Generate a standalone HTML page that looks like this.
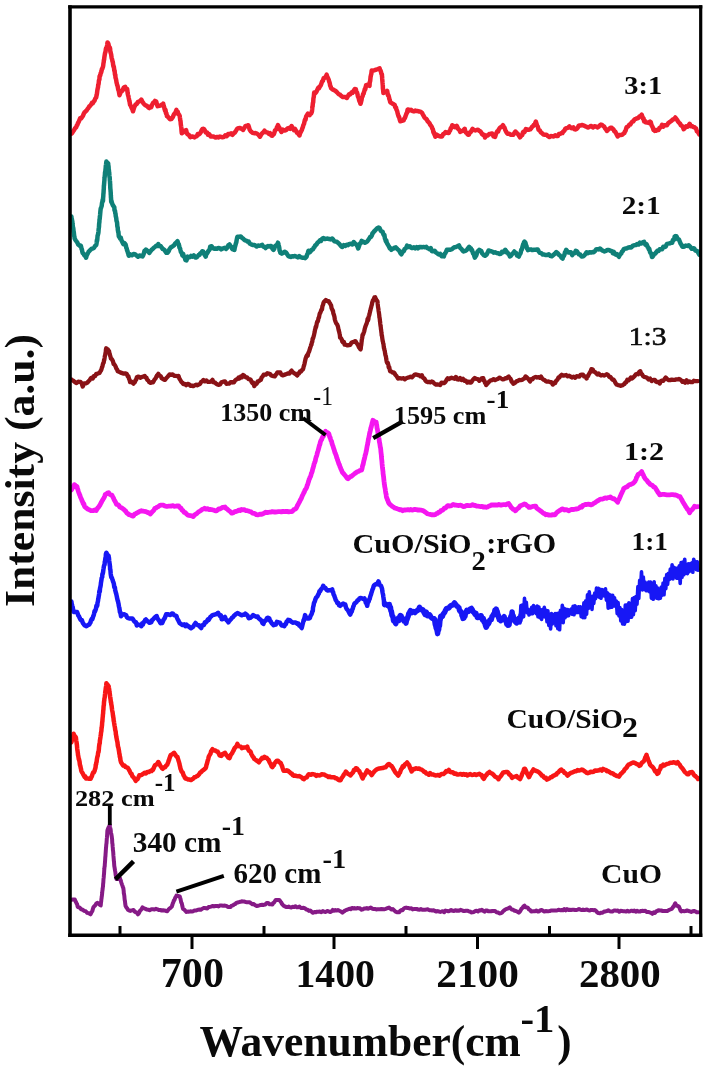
<!DOCTYPE html>
<html><head><meta charset="utf-8"><title>Raman spectra</title>
<style>html,body{margin:0;padding:0;background:#fff;overflow:hidden;}svg{display:block;}</style>
</head><body>
<svg width="709" height="1069" viewBox="0 0 709 1069" font-family="Liberation Serif, Times New Roman, serif">
<rect width="709" height="1069" fill="#fff"/>
<path d="M71.4 133.6L72.2 133.0L73.1 131.4L74.0 130.2L74.8 128.7L75.4 127.9L76.1 127.4L76.7 125.7L77.4 124.8L78.0 123.0L78.7 121.8L79.3 120.4L80.2 118.2L81.1 118.5L82.0 117.2L82.9 116.0L83.8 113.6L84.5 112.4L85.3 111.8L86.0 111.0L86.8 110.3L87.5 109.0L88.3 108.2L89.2 106.4L90.1 105.8L91.0 104.7L91.9 102.9L92.8 103.2L93.7 101.4L94.5 100.7L95.3 98.5L96.2 97.3L96.4 96.1L96.7 94.9L96.9 94.0L97.1 92.4L97.3 90.7L97.6 89.0L97.8 87.9L98.0 87.6L98.2 85.0L98.5 84.3L98.7 83.1L98.9 80.6L99.1 80.1L99.4 79.5L99.6 76.2L100.0 76.0L100.4 74.8L100.7 73.1L101.1 72.7L101.5 71.1L101.9 69.0L102.2 69.1L102.6 67.8L103.0 66.7L103.2 65.6L103.4 63.6L103.7 62.1L103.9 59.9L104.1 59.7L104.3 57.6L104.5 56.4L104.8 54.5L105.0 53.4L105.2 52.3L105.5 52.1L105.9 48.8L106.2 47.8L106.5 47.5L106.8 47.0L107.2 45.1L107.5 42.4L108.3 43.5L109.0 46.7L109.8 47.6L110.1 48.7L110.3 51.2L110.6 52.6L110.9 53.4L111.2 54.8L111.4 56.2L111.7 58.2L112.0 59.0L112.3 60.2L112.5 61.6L112.8 61.6L113.1 64.7L113.3 65.8L113.6 66.8L113.8 66.6L114.1 68.7L114.3 70.8L114.6 70.5L114.8 72.8L115.0 74.8L115.3 74.7L115.5 77.7L115.8 78.4L116.0 79.2L116.3 80.8L116.5 82.3L116.8 83.4L117.2 85.3L117.5 85.6L117.8 87.2L118.2 89.4L118.5 90.2L118.8 91.0L119.2 93.5L119.5 95.2L120.4 92.9L121.3 91.3L122.2 90.9L122.9 89.4L123.7 87.8L124.4 87.2L125.3 86.9L126.2 89.4L127.1 89.0L127.4 90.7L127.6 92.9L127.9 94.5L128.2 95.7L128.5 96.7L128.7 97.9L129.0 99.2L129.3 100.8L129.6 101.7L129.8 103.3L130.1 104.8L130.8 105.9L131.6 107.8L132.3 109.0L133.0 111.3L133.7 108.9L134.3 107.0L135.0 105.7L135.7 104.5L136.8 103.9L137.9 102.0L139.1 101.4L140.2 101.1L141.3 99.6L142.4 101.6L143.6 103.5L144.7 104.7L145.8 105.5L147.0 105.9L148.2 107.4L149.3 108.1L150.2 106.5L151.2 107.1L152.1 104.7L153.0 103.0L154.0 102.2L154.9 101.0L155.6 102.2L156.3 101.7L156.9 104.2L157.6 106.2L158.3 106.0L159.4 105.8L160.6 105.6L161.7 104.7L162.8 104.3L163.2 103.7L163.7 105.9L164.2 107.2L164.6 109.2L165.1 110.8L165.5 109.9L166.0 113.5L166.4 113.3L166.9 116.0L167.3 116.0L168.7 117.8L170.0 119.2L171.4 119.1L172.1 118.0L172.8 117.1L173.5 115.4L174.3 113.9L175.0 113.6L175.7 112.0L176.4 109.9L177.1 112.9L177.7 111.7L178.4 114.1L179.0 114.5L179.7 115.9L179.9 117.6L180.1 118.7L180.2 120.3L180.4 120.4L180.6 121.8L180.8 124.5L180.9 124.9L181.1 126.3L181.3 127.4L181.5 130.4L181.6 131.5L181.8 133.3L182.0 133.2L182.8 132.7L183.7 130.9L184.6 130.9L185.4 130.3L186.1 130.1L186.8 133.0L187.4 134.0L188.1 134.6L188.8 134.9L190.2 137.2L191.6 136.6L193.0 136.6L194.4 137.4L195.5 136.6L196.7 136.4L197.8 134.0L198.9 134.5L199.8 133.6L200.7 132.4L201.6 130.3L202.5 128.9L203.4 128.8L204.2 129.4L204.9 130.5L205.7 132.5L206.5 132.6L207.2 132.5L208.0 134.8L209.3 134.3L210.7 136.4L212.0 136.5L213.4 136.4L214.7 137.2L216.0 137.5L217.3 136.9L218.6 137.5L219.9 136.5L221.2 137.0L222.5 137.2L223.8 137.1L225.2 135.4L226.7 136.1L228.1 134.1L229.5 134.3L231.0 133.4L232.5 134.8L234.0 133.1L234.8 132.7L235.5 131.5L236.2 130.4L237.0 129.0L237.8 128.4L238.5 128.2L240.0 127.9L241.6 128.9L243.1 129.9L244.2 128.1L245.3 126.3L246.5 125.6L247.6 125.4L248.3 125.2L249.0 127.2L249.6 129.5L250.3 130.7L251.0 131.6L252.5 132.8L254.0 133.2L255.5 133.1L257.0 133.6L258.5 134.9L260.0 136.7L261.1 134.6L262.2 133.3L263.4 132.3L264.5 130.7L266.0 132.3L267.5 132.4L269.0 134.0L270.1 133.2L271.3 135.5L272.4 135.7L273.1 133.8L273.8 134.3L274.4 132.5L275.1 130.2L275.8 129.9L276.4 129.2L276.9 127.3L277.4 126.7L278.0 125.2L278.7 126.6L279.4 127.7L280.0 129.7L280.7 130.6L281.4 131.9L282.9 129.6L284.5 130.6L286.0 130.1L287.4 128.6L288.8 127.9L290.2 128.8L291.6 126.0L292.7 128.2L293.9 130.2L295.0 129.0L296.1 130.8L297.0 132.7L297.8 132.6L298.6 134.2L299.5 135.5L300.1 133.1L300.6 132.3L301.2 131.2L301.8 130.2L302.3 128.4L302.9 127.0L303.3 125.2L303.7 124.4L304.0 123.9L304.4 122.1L304.8 120.3L305.2 119.1L305.5 119.9L305.9 117.7L306.3 116.2L308.0 113.6L309.7 115.0L310.4 113.8L311.2 113.4L311.9 111.6L312.1 110.0L312.2 109.0L312.4 106.3L312.6 106.7L312.7 105.0L312.9 103.1L313.0 103.0L313.2 102.0L313.4 98.8L313.5 98.0L313.7 97.3L313.9 95.9L314.0 94.3L314.2 92.6L315.3 93.3L316.5 91.6L317.6 89.1L318.4 87.7L319.1 88.2L319.9 86.4L320.6 85.6L321.4 83.7L322.1 81.4L322.9 80.9L323.6 78.3L324.4 78.1L325.1 77.3L325.9 76.5L326.6 74.7L327.3 76.6L328.1 78.4L328.8 79.9L329.1 81.4L329.5 82.4L329.8 83.4L330.1 85.3L330.4 86.2L330.8 86.9L331.1 88.3L332.6 89.4L334.1 90.1L335.6 91.0L336.7 92.0L337.9 93.3L339.0 94.3L340.1 94.7L341.5 96.2L342.8 97.0L344.2 97.1L345.5 97.1L346.9 98.0L348.0 96.0L349.1 94.3L350.3 94.4L351.4 92.6L352.5 92.8L353.6 90.8L354.8 89.1L355.9 89.2L356.3 92.0L356.7 92.0L357.1 92.7L357.5 94.3L357.9 96.3L358.4 97.5L358.8 98.6L359.2 100.6L359.6 101.4L360.0 102.2L360.4 103.8L360.8 103.1L361.2 101.3L361.5 100.1L361.9 97.5L362.3 96.7L362.7 95.9L363.1 94.0L363.6 93.6L364.0 92.0L364.4 90.9L364.8 89.0L365.2 89.4L365.7 87.3L366.1 85.2L367.8 84.8L369.5 85.8L369.7 82.6L369.9 82.0L370.2 80.7L370.4 78.8L370.6 76.7L370.8 76.2L371.0 74.9L371.3 74.0L371.5 72.4L371.7 70.6L373.2 70.7L374.7 70.2L376.2 69.6L377.9 69.0L379.6 68.3L380.1 70.2L380.5 70.4L381.0 72.0L381.4 73.8L381.9 74.2L382.0 76.2L382.1 76.7L382.2 78.9L382.4 81.0L382.5 82.4L382.6 83.4L382.7 84.7L382.8 85.4L382.9 88.7L383.1 89.3L383.2 91.1L383.3 91.3L383.4 93.1L384.5 91.3L385.7 92.1L386.8 91.5L387.2 91.0L387.6 93.4L387.9 95.0L388.3 94.9L388.7 96.1L389.1 97.8L389.4 99.3L389.8 100.1L390.2 102.2L391.7 103.1L393.2 104.1L394.7 104.9L395.1 106.7L395.6 107.8L396.0 107.6L396.4 109.4L396.9 110.4L397.3 111.7L397.7 113.6L398.1 114.9L398.6 116.5L399.0 116.5L399.4 118.1L399.9 120.1L400.3 121.3L402.0 120.7L403.7 120.3L404.3 118.6L404.8 118.2L405.4 116.7L405.9 115.1L406.5 113.5L407.1 112.5L407.6 109.7L408.2 109.5L409.6 110.4L411.0 109.8L412.5 111.1L413.9 111.4L415.2 110.5L416.6 111.1L417.9 111.1L419.3 111.6L420.6 111.7L421.4 112.4L422.1 113.0L422.9 114.6L423.6 115.7L424.4 117.3L425.1 118.2L426.0 118.7L426.8 119.5L427.6 121.2L428.5 122.1L429.4 123.0L430.2 124.8L431.0 125.7L431.9 127.2L432.4 128.7L432.9 129.4L433.4 132.4L433.8 132.0L434.3 134.2L434.8 134.9L435.3 136.8L436.7 134.7L438.1 135.6L439.5 136.2L440.9 136.5L442.0 136.4L443.2 134.0L444.4 133.5L445.5 132.1L447.1 132.7L448.8 133.0L449.5 131.2L450.2 130.3L450.8 128.0L451.5 128.0L452.2 125.3L453.7 126.0L455.2 127.2L456.7 125.8L457.4 127.1L458.1 128.9L458.7 129.3L459.4 130.0L460.1 131.8L461.6 131.2L463.2 130.5L464.7 128.8L465.4 131.5L466.0 132.6L466.7 132.7L467.3 134.0L468.0 134.7L468.9 134.7L469.8 132.3L470.8 132.0L471.7 130.2L472.6 128.9L473.9 130.0L475.3 130.5L476.6 130.0L478.0 129.8L479.3 130.9L480.2 131.3L481.2 132.5L482.1 134.2L483.1 134.9L484.1 134.8L485.0 137.5L486.4 135.5L487.8 135.4L489.2 134.0L490.6 133.8L492.1 133.5L493.6 136.4L495.1 136.9L495.9 134.1L496.6 132.6L497.4 131.2L498.1 131.5L498.9 129.2L499.6 128.2L500.7 127.2L501.9 126.6L503.0 125.2L503.8 127.2L504.5 127.7L505.2 129.8L506.0 131.4L506.8 132.8L507.5 133.7L509.0 133.7L510.5 134.7L512.0 134.7L513.1 134.8L514.3 133.2L515.4 131.5L516.3 132.4L517.2 133.4L518.2 134.4L519.1 135.9L520.0 137.4L520.8 136.4L521.5 135.3L522.2 135.1L523.0 132.2L523.8 131.5L524.5 132.1L525.9 129.0L527.3 129.5L528.7 129.7L530.1 129.4L531.0 128.4L532.0 126.9L533.0 126.2L533.9 124.9L534.8 124.2L535.8 121.5L536.4 123.4L536.9 125.4L537.5 126.1L538.0 127.5L538.6 129.9L539.6 130.1L540.5 131.8L541.5 132.8L542.4 133.5L543.4 134.6L544.9 134.8L546.4 134.7L547.9 136.1L549.4 137.0L550.8 136.1L552.3 136.2L553.7 136.4L555.2 135.2L556.6 135.9L557.8 136.0L559.0 134.0L560.2 133.8L561.4 133.0L562.4 133.1L563.3 131.4L564.3 130.8L565.2 128.8L566.2 128.3L567.8 127.9L569.4 126.4L571.0 128.0L572.2 128.2L573.4 127.3L574.6 129.3L575.8 129.4L576.8 128.8L577.7 127.8L578.7 125.7L579.6 125.5L580.6 125.6L581.8 125.0L583.0 125.3L584.2 125.7L585.4 126.4L586.9 127.0L588.4 127.5L589.9 126.5L591.4 126.0L592.9 127.5L594.4 126.2L595.9 126.4L597.4 127.4L598.6 126.8L599.8 125.3L600.9 124.6L602.1 124.9L603.1 126.0L604.0 126.3L605.0 128.2L605.9 129.2L606.9 131.0L608.1 129.7L609.3 128.8L610.5 127.8L611.7 127.7L612.6 129.1L613.4 129.3L614.3 131.2L615.1 131.4L616.0 133.1L616.8 134.7L617.7 136.4L619.2 135.0L620.7 134.9L622.2 134.7L623.7 133.4L624.3 133.1L624.9 131.5L625.5 130.9L626.1 128.8L626.7 127.1L627.3 127.1L628.3 126.3L629.3 124.8L630.3 124.6L631.3 122.9L632.3 121.7L633.3 121.4L634.5 119.3L635.7 118.9L636.9 118.4L638.1 118.0L639.3 116.6L640.5 116.1L641.7 114.7L642.3 116.5L642.9 118.5L643.5 118.3L644.1 121.3L644.7 120.7L645.3 122.3L646.9 122.4L648.5 122.9L650.1 121.6L650.8 122.2L651.5 125.1L652.2 126.4L652.8 127.5L653.5 129.9L654.2 129.6L654.9 130.9L656.1 130.7L657.3 129.7L658.5 129.9L659.7 127.6L660.9 127.4L662.1 124.8L663.3 126.6L664.5 125.2L665.7 125.3L666.9 125.3L668.1 123.3L669.3 122.4L670.5 121.5L671.7 120.6L672.9 119.5L674.1 119.1L675.3 117.5L676.2 118.7L677.1 119.8L678.0 121.6L678.9 122.6L679.9 123.4L680.8 125.1L681.8 125.8L682.7 126.4L683.7 129.2L684.9 127.9L686.1 126.3L687.3 126.8L688.5 125.6L689.7 123.8L690.9 126.3L692.1 126.1L693.3 127.0L694.5 127.2L695.3 128.2L696.1 128.6L696.9 131.3L697.7 131.9L698.5 132.9L699.3 134.5" fill="none" stroke="#ee1f30" stroke-width="4.5" stroke-linejoin="round" stroke-linecap="round"/>
<path d="M71.4 216.6L71.6 218.4L71.9 219.3L72.1 220.9L72.3 221.1L72.5 223.6L72.8 225.7L73.0 227.5L73.2 227.9L73.4 229.4L73.6 231.8L73.8 232.1L74.0 234.1L74.2 236.0L74.4 236.4L74.6 238.5L74.8 238.8L75.7 240.4L76.5 241.4L77.3 242.6L78.2 244.4L80.4 246.2L80.8 245.7L81.2 247.1L81.6 249.0L81.9 249.4L82.3 251.7L82.7 253.0L83.5 253.7L84.4 255.3L85.2 255.1L86.1 257.7L86.8 254.9L87.4 254.1L88.1 252.8L88.7 251.6L89.4 251.0L90.5 249.8L91.7 248.7L92.8 248.5L93.9 248.0L95.1 245.9L96.2 245.0L96.4 244.2L96.7 242.3L96.9 240.0L97.1 240.9L97.3 239.4L97.6 235.5L97.8 235.3L98.0 234.3L98.3 233.2L98.5 231.7L98.6 229.8L98.8 228.0L98.9 227.4L99.0 226.6L99.1 224.0L99.3 222.7L99.4 222.0L99.5 219.5L99.7 219.2L99.8 217.7L99.9 216.9L100.1 214.9L100.2 213.5L100.3 212.5L100.4 211.3L100.6 209.6L100.7 208.7L101.0 207.9L101.4 206.8L101.7 205.9L102.0 203.1L102.3 202.0L102.7 199.5L103.0 200.8L103.1 197.9L103.2 197.0L103.3 196.0L103.4 193.6L103.5 193.3L103.6 191.7L103.7 189.3L103.8 189.2L103.8 188.5L103.9 185.3L104.0 185.6L104.1 183.9L104.2 182.7L104.3 181.4L104.4 180.5L104.5 178.3L104.6 177.6L104.8 175.5L104.9 174.9L105.0 172.7L105.2 171.8L105.3 171.6L105.5 169.5L105.7 167.8L105.8 165.9L106.0 164.8L106.1 164.0L106.2 163.2L106.4 161.6L107.3 162.7L108.2 163.5L108.3 165.6L108.5 165.9L108.6 167.1L108.7 169.3L108.9 170.1L109.0 171.2L109.1 172.4L109.3 173.9L109.4 175.7L109.5 176.9L109.7 177.3L109.8 179.6L109.9 180.7L110.0 181.4L110.1 183.8L110.2 184.4L110.2 185.7L110.3 187.8L110.4 189.4L110.5 189.5L110.6 191.5L110.7 192.1L110.8 195.3L110.9 195.0L110.9 197.3L111.0 197.5L111.1 199.7L111.2 201.9L111.3 200.4L112.0 203.1L112.8 205.1L113.5 206.1L114.3 207.2L114.5 210.3L114.8 210.4L115.0 210.7L115.3 213.6L115.5 213.5L115.8 216.6L116.0 216.9L116.3 218.7L116.5 220.8L116.7 221.4L116.9 221.8L117.1 222.9L117.3 226.0L117.5 227.0L117.7 227.4L117.8 229.7L118.0 230.8L118.2 232.2L118.4 231.8L118.6 234.3L118.8 236.3L119.5 237.4L120.2 238.6L120.8 237.7L121.5 240.4L122.2 241.7L123.3 244.1L124.5 243.1L125.6 244.6L126.0 246.1L126.3 247.8L126.7 248.3L127.1 250.5L127.4 250.6L127.8 252.5L128.2 253.3L128.5 254.9L128.9 255.7L130.4 254.4L132.0 255.2L133.5 254.0L135.0 254.2L136.5 255.5L138.0 256.7L139.5 255.5L141.0 256.0L142.5 256.4L143.2 255.1L143.9 253.2L144.5 250.8L145.2 251.4L145.9 249.5L147.0 250.4L148.2 251.4L149.3 252.9L150.4 251.3L151.6 249.8L152.7 248.9L153.8 247.8L154.9 247.0L156.1 245.8L157.2 246.0L158.3 244.0L159.4 246.0L160.6 245.9L161.7 247.6L162.8 249.0L163.7 249.4L164.6 250.0L165.5 251.6L166.4 252.8L167.3 252.8L168.0 252.1L168.7 251.2L169.3 249.5L170.0 248.5L170.7 247.5L171.8 246.8L173.0 246.1L174.1 245.2L175.2 243.5L176.4 242.5L177.5 241.2L177.9 242.5L178.3 243.8L178.8 244.2L179.2 246.3L179.6 247.8L180.1 248.5L180.5 250.3L180.9 251.9L181.7 252.8L182.4 255.5L183.2 254.0L183.9 256.7L184.7 257.1L185.4 260.1L186.5 260.4L187.6 256.6L188.8 257.5L189.9 257.1L191.0 255.9L192.4 256.7L193.8 255.3L195.3 257.4L196.7 257.4L197.6 256.3L198.6 255.0L199.5 254.8L200.4 253.2L201.4 252.7L202.3 251.3L203.2 251.4L204.0 253.8L204.8 255.1L205.7 256.6L206.3 254.3L207.0 253.5L207.6 252.6L208.3 251.0L208.9 250.4L209.6 249.6L210.2 246.6L211.6 246.2L212.9 248.1L214.3 248.7L215.6 248.5L217.0 248.7L218.4 248.0L219.7 248.2L221.1 249.4L222.4 248.5L223.8 248.2L224.9 247.8L226.1 249.0L227.2 247.8L228.4 245.3L229.5 244.4L230.4 246.1L231.3 246.6L232.2 249.0L233.1 249.3L234.0 249.8L234.4 249.9L234.8 247.4L235.1 246.5L235.5 244.9L235.9 243.4L236.3 242.4L236.6 240.4L237.0 238.3L237.4 236.7L239.1 236.7L240.8 236.4L241.9 237.7L243.1 238.6L244.2 239.8L245.3 240.4L246.4 240.7L247.6 241.6L248.7 241.6L249.8 243.6L251.2 244.4L252.5 244.9L253.9 244.9L255.2 245.4L256.6 246.5L258.0 245.6L259.4 245.8L260.8 245.4L262.2 244.9L263.3 246.7L264.5 246.7L265.6 248.0L266.7 246.9L267.9 246.0L269.0 246.6L270.1 245.9L271.0 245.9L271.8 247.4L272.6 248.9L273.5 249.8L274.2 248.9L275.0 246.3L275.8 245.6L276.5 245.1L277.2 244.6L278.0 242.7L278.3 243.5L278.7 245.3L279.0 246.5L279.3 247.9L279.6 250.7L280.0 250.9L280.3 252.7L281.8 253.6L283.3 252.7L284.8 251.8L285.9 252.4L287.1 254.1L288.2 255.9L289.3 256.5L290.7 256.9L292.1 256.2L293.6 256.4L295.0 256.0L296.4 256.6L297.8 257.4L299.2 256.1L300.6 257.2L302.1 257.7L303.6 257.7L305.1 258.2L305.8 257.5L306.5 256.9L307.1 254.7L307.8 253.2L308.5 250.7L310.0 252.0L311.5 250.1L313.0 249.3L313.8 247.5L314.5 247.0L315.3 245.3L316.1 244.9L316.8 244.0L317.6 242.6L318.7 241.9L319.9 240.4L321.0 240.9L322.1 238.8L323.5 238.1L324.9 239.1L326.3 238.7L327.7 238.6L329.2 239.0L330.7 239.4L332.2 238.5L333.3 239.8L334.5 241.4L335.6 241.6L336.8 241.8L337.9 242.7L339.0 243.7L340.1 244.8L341.3 246.4L342.4 247.0L343.8 245.1L345.2 245.9L346.6 244.8L348.0 245.2L349.4 243.9L350.9 243.8L352.3 244.5L353.7 242.0L354.6 243.0L355.5 244.0L356.4 244.5L357.3 246.0L358.2 248.4L358.9 246.5L359.6 244.4L360.2 243.2L360.9 243.1L361.6 240.9L363.3 241.8L365.0 242.8L366.1 242.3L367.2 241.5L368.4 239.8L369.5 238.1L370.2 237.0L371.0 236.8L371.8 235.5L372.5 233.3L373.2 232.7L374.0 231.5L375.1 230.5L376.2 229.3L377.4 228.0L378.5 227.6L379.6 228.1L380.8 230.9L381.9 231.6L382.6 231.7L383.4 234.3L383.9 235.3L384.4 235.0L384.9 238.5L385.3 239.2L385.8 241.2L386.3 240.6L386.8 242.9L387.6 244.2L388.3 245.4L389.1 246.7L389.8 248.5L390.6 248.3L391.3 249.8L392.4 248.8L393.6 248.5L394.7 247.6L395.8 247.3L396.7 248.4L397.7 249.4L398.6 250.0L399.5 251.3L400.5 253.3L401.4 254.3L402.2 252.7L403.0 251.3L403.8 251.3L404.7 248.9L405.5 248.5L406.3 247.7L407.1 245.7L408.5 246.9L409.8 246.2L411.2 247.9L412.5 247.9L413.9 247.2L415.2 248.4L416.6 247.2L417.9 248.3L419.3 246.9L420.6 247.0L422.0 247.3L423.5 246.9L424.9 247.3L426.3 246.8L427.4 248.2L428.5 248.5L429.7 249.3L430.8 248.2L431.9 251.2L433.3 251.2L434.6 250.8L436.0 252.5L437.3 253.4L438.7 254.4L440.2 253.9L441.7 256.3L443.2 256.0L443.9 256.4L444.7 253.7L445.4 253.1L446.2 251.3L446.9 249.8L447.7 250.0L449.1 249.6L450.4 249.8L451.8 249.2L453.1 248.1L454.5 247.2L456.0 247.0L457.5 246.3L459.0 245.4L459.9 247.4L460.8 248.4L461.7 249.2L462.6 250.6L463.5 251.5L464.6 251.0L465.8 250.6L466.9 249.9L468.0 248.2L469.2 246.9L470.3 248.0L470.9 248.4L471.4 250.3L472.0 249.9L472.6 252.0L473.1 253.4L473.7 253.8L474.2 255.6L474.8 257.6L475.6 256.5L476.3 255.5L477.1 252.7L477.8 251.1L478.6 250.9L479.3 249.9L480.2 250.5L481.2 250.8L482.1 253.2L483.1 254.3L484.1 255.3L485.0 255.8L485.9 255.2L486.8 254.3L487.7 252.4L488.6 250.5L489.5 250.7L490.9 251.3L492.3 251.6L493.7 252.7L495.1 252.3L496.6 253.0L498.1 253.3L499.6 254.1L500.7 253.9L501.9 251.8L503.0 252.3L504.2 251.1L505.3 249.8L506.1 250.8L506.8 252.6L507.6 252.6L508.3 253.8L509.1 254.3L509.8 256.4L510.9 255.8L512.0 254.2L513.2 253.0L514.3 251.5L515.2 252.8L516.1 253.0L517.0 255.6L517.9 255.8L518.8 256.5L519.3 255.4L519.8 254.1L520.2 253.8L520.7 252.6L521.2 249.8L521.6 249.9L522.1 248.5L522.6 246.3L523.1 244.5L523.5 243.6L524.0 242.3L524.5 241.6L525.0 242.5L525.5 242.8L526.0 245.4L526.4 245.7L526.9 248.4L527.4 248.5L527.9 250.1L529.4 249.6L530.9 249.4L532.4 250.1L533.9 249.8L535.4 249.7L536.9 249.5L537.9 249.6L538.8 251.5L539.8 252.8L541.3 253.1L542.8 254.6L544.3 254.5L545.8 255.1L547.3 254.9L548.8 254.3L550.3 255.9L551.8 256.3L553.3 255.0L554.8 253.7L556.3 252.1L557.8 253.2L558.8 254.8L559.7 255.2L560.7 256.5L561.6 257.8L562.6 258.6L563.2 256.4L563.8 256.1L564.4 254.8L565.0 252.2L565.6 251.7L566.2 249.8L567.4 251.4L568.6 252.5L569.8 252.2L571.0 252.3L572.2 255.1L573.4 253.6L574.6 253.4L575.8 250.8L577.0 251.3L578.0 253.1L578.9 254.3L579.9 254.2L580.8 255.7L581.8 256.6L583.0 256.4L584.2 255.5L585.4 254.1L586.6 252.3L588.1 253.2L589.6 252.2L591.1 252.6L592.6 252.1L593.8 252.2L595.0 251.1L596.1 249.5L597.3 249.2L598.5 249.4L600.0 248.6L601.5 249.8L603.0 250.8L604.5 251.5L605.9 251.0L607.4 249.9L608.8 249.9L610.3 250.8L611.7 250.9L612.7 253.1L613.8 251.9L614.8 254.0L615.8 254.6L616.8 254.0L617.9 255.4L618.9 256.8L619.7 255.2L620.5 254.2L621.3 253.4L622.1 251.4L622.9 251.0L623.7 249.1L625.2 248.6L626.7 248.6L628.2 247.4L629.7 247.3L631.2 247.5L632.7 245.9L634.2 245.2L635.7 245.1L637.1 244.1L638.5 244.5L639.9 242.7L641.3 243.5L642.7 242.4L644.1 241.8L645.3 244.6L646.5 244.2L647.7 247.0L648.2 247.5L648.8 249.2L649.3 248.9L649.8 251.4L650.4 252.8L650.9 253.0L651.4 254.2L652.0 257.0L652.5 256.8L653.5 255.2L654.4 253.9L655.4 253.4L656.3 252.1L657.3 250.8L658.5 251.1L659.7 249.3L660.9 249.2L662.1 249.2L663.3 246.8L664.5 247.1L665.7 246.7L666.9 243.9L668.5 243.6L670.1 243.3L671.7 242.4L672.3 242.6L672.9 240.0L673.5 240.2L674.1 239.6L674.7 236.5L675.3 236.1L676.5 236.3L677.7 239.2L678.9 239.5L679.5 240.9L680.1 242.3L680.7 243.8L681.3 244.5L681.9 245.9L682.5 246.8L684.1 246.8L685.7 245.6L687.3 245.9L688.8 245.3L690.3 246.8L691.8 248.8L693.3 248.3L694.3 248.5L695.3 250.5L696.3 250.7L697.3 251.3L698.3 252.9L699.3 254.7" fill="none" stroke="#0f8078" stroke-width="4.5" stroke-linejoin="round" stroke-linecap="round"/>
<path d="M71.4 379.5L72.5 380.4L73.7 381.0L74.8 382.1L76.5 383.0L78.2 381.7L79.3 381.9L80.5 382.0L81.6 383.3L82.7 386.5L84.2 383.5L85.7 383.4L87.2 382.8L88.3 381.5L89.5 380.3L90.6 378.5L91.7 377.6L92.8 378.4L94.0 376.0L95.1 376.2L96.2 373.8L97.3 373.8L98.5 373.3L99.6 372.9L100.7 370.7L101.1 370.5L101.5 369.1L102.0 367.2L102.4 366.6L102.8 364.5L103.2 363.3L103.7 362.6L104.1 359.7L104.3 359.9L104.6 358.0L104.8 356.3L105.0 355.6L105.2 355.0L105.5 352.9L105.7 352.5L105.9 349.7L106.2 348.3L106.4 348.6L107.5 349.1L108.6 350.6L109.0 350.8L109.4 353.1L109.8 354.1L110.1 355.7L110.5 356.6L110.9 358.6L111.6 358.9L112.3 360.0L112.9 361.1L113.6 364.0L114.3 364.3L115.0 365.4L115.7 366.8L116.3 368.5L117.0 369.3L117.7 371.2L119.2 371.8L120.7 372.6L122.2 373.1L123.7 373.7L125.2 373.4L126.7 373.8L127.3 375.2L127.8 376.5L128.4 376.3L129.0 378.6L129.5 379.8L130.1 382.1L131.2 381.4L132.4 382.6L133.5 383.6L134.2 382.5L134.8 382.2L135.5 380.2L136.1 379.9L136.8 377.3L138.5 376.6L140.2 377.8L141.7 377.0L143.2 376.6L144.7 376.0L145.5 377.3L146.4 377.5L147.2 379.9L148.1 380.2L149.2 382.2L150.4 382.8L151.5 382.6L152.3 381.9L153.2 382.2L154.1 380.3L154.9 379.1L155.6 378.3L156.3 376.8L156.9 375.6L157.6 374.9L158.3 373.8L159.4 375.7L160.6 376.0L161.7 378.2L162.8 378.9L164.0 379.6L165.1 379.9L166.2 378.3L167.3 377.1L168.5 375.8L169.6 374.4L171.1 374.8L172.6 374.4L174.1 375.8L175.6 375.9L177.1 376.1L178.6 376.0L179.3 378.4L180.0 379.5L180.6 380.5L181.3 381.8L182.0 382.4L183.4 384.1L184.8 383.8L186.2 385.3L187.6 383.8L189.0 384.3L190.4 385.8L191.9 385.6L193.3 386.2L194.7 385.3L196.1 384.6L197.5 385.3L198.9 384.4L200.0 384.0L201.2 381.9L202.3 381.3L203.4 380.0L204.9 381.4L206.5 380.4L208.0 381.9L209.5 381.9L211.0 381.7L212.5 379.9L213.6 382.3L214.8 382.3L215.9 383.4L217.0 384.2L218.5 384.9L220.0 384.5L221.5 382.3L223.2 381.7L225.0 381.4L226.5 383.8L228.0 383.7L229.5 383.5L230.6 382.1L231.8 382.1L232.9 382.5L234.1 382.3L235.2 380.3L236.3 379.4L237.5 378.9L238.6 377.4L239.7 378.4L240.8 376.6L242.0 377.2L243.1 374.9L244.4 375.8L245.8 377.4L247.1 377.5L248.5 379.1L249.8 379.3L250.7 379.7L251.6 382.0L252.5 383.2L253.4 382.7L254.3 386.1L255.4 384.4L256.6 383.8L257.8 381.3L258.9 381.2L259.8 380.3L260.8 380.0L261.7 377.3L262.6 376.5L263.6 374.7L264.5 374.7L265.9 374.7L267.3 373.2L268.7 373.6L270.1 374.0L271.2 375.5L272.4 375.8L273.6 376.1L274.7 376.4L275.4 375.4L276.0 374.4L276.7 373.8L277.3 372.5L278.0 372.4L279.1 372.4L280.3 372.5L281.5 374.9L282.6 375.4L284.1 374.9L285.6 374.4L287.1 373.7L288.2 373.3L289.4 373.6L290.5 371.8L291.6 370.6L292.7 372.2L293.8 372.9L295.0 373.8L296.1 374.5L297.2 375.6L298.1 373.4L299.1 373.5L300.0 371.4L301.0 371.5L301.9 370.2L302.9 369.3L303.3 368.4L303.7 366.4L304.0 365.7L304.4 364.2L304.8 362.3L305.2 360.5L305.5 359.0L305.9 357.8L306.3 356.6L307.0 355.3L307.7 355.8L308.3 353.1L309.0 351.8L309.7 349.5L310.1 348.3L310.4 347.3L310.8 346.3L311.2 344.4L311.5 344.7L311.9 342.1L312.3 341.9L312.6 338.6L313.0 338.7L313.3 337.6L313.7 336.2L314.0 335.2L314.3 333.7L314.6 332.3L315.0 329.8L315.3 329.2L315.6 327.0L316.0 327.4L316.3 326.0L316.6 324.4L316.9 322.7L317.3 321.5L317.6 321.7L318.1 320.4L318.5 318.0L319.0 317.5L319.5 314.5L320.0 313.0L320.4 312.6L320.9 311.1L321.3 310.0L321.7 309.2L322.0 309.6L322.4 306.2L322.8 305.4L323.2 304.2L323.5 302.8L323.9 302.1L324.3 301.4L325.8 299.9L327.3 301.1L328.8 301.2L329.4 302.9L329.9 303.1L330.5 304.3L331.1 305.3L331.6 308.3L332.2 309.4L332.6 310.7L333.0 310.7L333.3 313.2L333.7 314.4L334.1 315.4L334.5 317.1L334.8 319.4L335.2 320.7L335.6 321.8L336.4 323.6L337.1 324.4L337.9 326.3L338.2 327.8L338.5 329.5L338.8 330.6L339.2 332.0L339.5 333.4L339.8 334.6L340.1 337.7L340.9 338.0L341.6 339.3L342.4 341.7L343.1 342.5L343.9 342.0L344.6 344.7L346.0 344.8L347.5 345.4L348.9 345.1L350.3 344.8L351.4 342.7L352.6 342.1L353.7 341.9L354.8 341.2L355.6 341.4L356.5 343.0L357.4 344.1L358.2 345.5L358.9 347.2L359.7 348.3L360.4 349.3L360.6 349.4L360.8 348.3L361.0 346.0L361.2 345.3L361.4 343.7L361.5 342.5L361.7 341.1L361.9 339.0L362.1 338.5L362.3 337.4L362.5 335.0L362.7 335.4L363.2 334.2L363.7 332.7L364.2 331.5L364.6 329.4L365.1 327.5L365.6 326.0L366.1 324.6L366.5 323.9L366.9 322.6L367.2 321.8L367.6 318.9L368.0 320.3L368.4 319.0L368.7 316.4L369.1 315.6L369.5 314.2L369.8 312.7L370.2 311.1L370.5 309.7L370.9 308.0L371.2 307.2L371.5 305.7L371.9 304.6L372.2 302.5L372.6 301.7L372.9 300.3L373.6 299.5L374.4 297.4L375.1 297.2L375.9 299.0L376.6 300.3L377.4 301.2L377.6 302.4L377.7 303.9L377.9 305.8L378.1 307.6L378.2 307.8L378.4 308.9L378.6 310.8L378.8 312.0L378.9 312.6L379.1 314.0L379.3 315.7L379.4 317.5L379.6 317.7L379.8 319.2L380.0 321.5L380.1 321.8L380.3 324.0L380.5 325.5L380.7 326.6L380.8 327.5L381.0 329.4L381.2 330.7L381.4 332.4L381.5 333.1L381.7 335.7L381.9 335.4L382.2 337.7L382.4 339.1L382.7 341.1L382.9 341.5L383.2 343.5L383.5 344.2L383.7 346.4L384.0 348.3L384.2 348.4L384.5 350.3L384.8 350.9L385.1 353.4L385.4 355.0L385.6 355.7L385.9 356.4L386.2 358.7L386.5 360.6L386.8 362.0L387.3 363.1L387.8 362.8L388.3 364.7L388.7 367.3L389.2 367.0L389.7 369.7L390.2 371.4L391.3 371.5L392.4 372.5L393.5 372.4L394.4 373.0L395.3 374.8L396.3 375.8L397.2 377.1L398.1 378.6L399.4 378.1L400.8 378.3L402.1 378.5L403.5 378.2L404.8 379.3L406.2 378.2L407.6 377.7L409.1 377.3L410.5 376.7L411.9 377.3L413.3 376.0L414.7 374.7L416.1 374.5L417.5 375.0L419.0 375.1L420.4 376.3L421.8 375.2L422.7 377.3L423.6 378.3L424.5 378.6L425.4 380.5L426.3 381.5L427.6 382.1L429.0 381.8L430.3 382.4L431.7 381.5L433.0 382.0L434.4 383.7L435.9 384.5L437.3 384.4L438.7 384.6L440.1 385.1L441.5 382.6L442.9 382.8L444.3 383.1L445.4 382.0L446.6 379.8L447.7 378.2L448.8 379.1L450.2 378.3L451.6 377.7L453.1 378.2L454.5 378.7L455.9 376.9L457.3 379.4L458.7 379.5L460.1 378.1L461.5 380.1L463.0 378.8L464.4 380.9L465.8 380.7L467.3 382.6L468.8 381.6L470.3 382.7L471.4 382.2L472.6 380.1L473.7 378.9L474.8 378.0L476.3 378.9L477.8 379.1L479.3 380.8L480.4 379.7L481.6 378.3L482.7 378.1L483.3 378.2L483.8 380.5L484.4 380.7L485.0 382.8L485.5 382.5L486.1 385.1L487.2 383.8L488.4 382.5L489.5 381.3L490.6 380.3L492.1 380.1L493.6 379.2L495.1 380.1L496.6 379.4L498.1 378.7L499.6 377.6L501.1 378.5L502.7 379.4L504.2 379.1L505.3 378.2L506.4 378.4L507.6 377.3L508.7 376.5L509.4 377.9L510.2 378.3L511.0 379.8L511.7 381.8L512.5 382.2L513.2 383.7L514.3 383.2L515.5 382.4L516.6 381.2L517.7 381.1L519.2 380.0L520.7 380.1L522.2 379.9L523.3 379.0L524.5 378.3L525.6 376.4L526.7 377.2L527.9 378.4L529.0 379.9L530.1 381.4L531.2 379.1L532.4 379.3L533.5 377.9L534.7 377.3L535.8 376.9L537.1 377.5L538.4 377.2L539.7 377.8L541.0 376.5L542.2 378.6L543.4 379.6L544.6 380.0L545.8 381.2L547.0 381.6L548.4 381.5L549.9 382.1L551.3 382.2L552.8 384.6L554.2 382.8L555.1 383.1L555.9 381.2L556.8 380.2L557.6 379.4L558.5 377.5L559.3 377.5L560.2 376.1L561.7 374.7L563.2 375.7L564.7 375.3L566.2 375.0L567.7 376.3L569.2 375.7L570.7 376.8L572.2 377.5L573.7 376.6L575.2 377.8L576.7 376.2L578.2 376.3L579.4 376.6L580.6 374.8L581.8 374.6L583.0 374.6L584.2 376.5L585.4 376.7L586.6 378.5L587.3 376.2L588.0 376.2L588.7 374.5L589.3 373.5L590.0 372.3L590.7 371.2L591.4 369.1L592.6 369.3L593.8 371.7L595.0 372.0L596.2 373.2L597.4 374.4L598.6 373.5L599.8 374.8L601.0 375.5L602.5 375.0L604.0 375.5L605.4 374.9L606.9 374.2L608.1 375.0L609.3 377.0L610.5 377.0L611.7 378.7L612.7 379.8L613.6 379.6L614.6 381.2L615.5 383.1L616.5 384.5L618.0 385.1L619.5 385.4L621.0 385.8L622.5 385.3L623.5 384.4L624.4 384.0L625.4 382.4L626.3 382.3L627.3 379.7L628.5 380.4L629.7 379.2L630.9 377.4L632.1 378.4L633.3 377.3L634.5 376.2L635.7 374.5L636.9 373.9L638.1 374.2L639.3 371.8L640.3 371.2L641.2 373.7L642.2 374.5L643.1 376.1L644.1 376.9L645.6 377.2L647.1 377.8L648.6 379.5L650.1 378.6L651.7 381.1L653.3 380.0L654.9 380.0L656.1 381.8L657.3 382.2L658.5 381.9L659.7 383.5L660.9 381.0L662.1 380.6L663.3 380.9L664.5 379.1L665.7 377.5L667.2 379.2L668.7 380.1L670.2 380.1L671.7 379.6L673.2 379.9L674.7 379.8L676.2 379.4L677.7 379.4L678.9 378.9L680.1 379.5L681.3 380.4L682.5 381.9L683.7 381.3L685.1 382.7L686.6 380.3L688.0 382.4L689.5 381.5L690.9 382.2L692.3 382.1L693.8 380.7L695.2 381.1L696.7 381.1L698.1 381.1" fill="none" stroke="#8a1216" stroke-width="4.3" stroke-linejoin="round" stroke-linecap="round"/>
<path d="M71.4 490.0L72.1 488.6L72.8 486.9L73.6 486.9L74.3 484.6L75.7 485.7L77.0 486.5L77.4 488.5L77.8 489.3L78.3 491.2L78.7 492.3L79.1 493.3L79.6 494.8L80.0 495.5L80.4 497.0L81.0 498.2L81.5 499.2L82.1 500.9L82.7 502.1L83.2 503.8L83.8 503.7L84.3 505.7L84.9 506.9L86.0 507.7L87.2 508.7L88.3 509.4L89.5 509.9L90.6 510.5L92.0 510.7L93.4 510.7L94.8 510.0L96.2 510.5L97.0 509.1L97.7 508.0L98.5 507.2L99.2 506.1L100.0 505.0L100.7 503.5L101.3 502.5L102.0 501.0L102.6 500.1L103.3 498.9L103.9 497.9L104.6 496.5L105.2 494.6L106.3 493.9L107.5 493.1L108.6 492.7L109.7 494.3L110.9 495.0L112.0 495.2L112.8 496.8L113.5 498.1L114.2 500.0L115.0 501.2L115.8 502.6L116.5 504.3L117.6 504.5L118.8 505.4L119.9 507.1L121.1 507.6L122.2 508.2L123.3 508.9L124.5 510.2L125.6 511.0L126.7 512.9L127.8 513.6L128.9 514.6L130.1 514.9L131.2 515.4L132.3 516.1L133.4 516.0L134.6 514.1L135.7 513.8L136.8 512.9L138.3 512.3L139.9 511.2L141.4 510.7L142.9 511.2L144.4 511.3L145.9 511.6L147.4 512.4L148.9 512.9L150.4 513.9L151.3 512.8L152.2 511.8L153.1 511.0L154.0 509.9L154.9 508.3L156.0 507.9L157.2 507.1L158.3 506.6L159.5 505.7L160.6 505.1L161.9 505.1L163.3 505.2L164.6 505.9L166.0 506.3L167.3 506.3L168.7 506.2L170.2 506.2L171.6 506.0L173.0 505.6L174.4 506.3L175.8 506.2L177.2 505.9L178.6 505.8L179.7 507.6L180.8 507.8L182.0 510.0L183.1 510.8L184.2 512.4L185.3 512.6L186.5 514.0L187.6 514.9L189.0 515.4L190.4 515.6L191.9 515.8L193.3 516.6L194.4 515.1L195.5 514.3L196.7 513.7L197.8 512.5L198.9 511.6L200.0 511.1L201.2 510.3L202.3 509.3L203.5 509.0L204.6 508.3L206.0 509.2L207.4 508.6L208.8 509.5L210.2 509.3L211.6 509.7L213.1 510.0L214.5 510.4L215.9 510.9L217.2 510.4L218.6 509.0L219.9 509.0L221.3 508.2L222.6 507.4L225.0 507.0L226.1 508.4L227.3 509.1L228.4 510.2L229.5 510.9L230.7 512.1L231.8 513.2L233.2 512.7L234.6 511.7L236.0 511.5L237.4 511.0L238.8 510.1L240.1 510.6L241.5 509.5L242.8 509.9L244.2 509.7L245.6 510.5L247.0 510.7L248.4 511.0L249.8 511.5L251.1 511.9L252.4 513.1L253.8 513.3L255.1 513.8L256.4 514.7L257.7 514.9L259.1 514.5L260.4 514.1L261.8 514.3L263.1 513.8L264.5 512.9L265.8 512.2L267.1 512.6L268.4 512.3L269.8 512.2L271.1 512.1L272.4 511.6L273.9 512.0L275.4 512.0L276.9 511.8L278.4 511.6L279.9 511.6L281.4 511.9L282.9 511.4L284.3 511.7L285.8 511.5L287.2 511.3L288.7 511.9L290.1 511.7L291.6 511.7L292.7 511.1L293.9 509.6L295.0 509.2L296.1 508.5L296.7 507.3L297.4 505.5L298.0 504.7L298.7 503.3L299.3 502.3L300.0 500.9L300.6 499.5L301.2 498.7L301.9 496.8L302.5 495.4L303.1 494.2L303.8 492.7L304.4 491.8L305.0 489.9L305.7 489.2L306.3 488.1L306.8 487.0L307.2 485.3L307.7 484.5L308.2 482.5L308.6 481.4L309.1 479.5L309.6 478.6L310.0 477.2L310.5 476.6L311.0 475.0L311.4 473.2L311.9 472.4L312.3 471.0L312.6 469.5L313.0 468.3L313.4 466.8L313.8 465.5L314.1 463.8L314.5 463.0L314.9 462.0L315.3 460.8L315.6 459.0L316.0 457.5L316.4 456.3L316.8 455.3L317.1 453.9L317.5 452.3L317.9 451.2L318.3 449.8L318.6 448.7L319.0 447.1L319.4 445.4L319.8 444.6L320.1 443.5L320.5 441.6L320.9 440.6L321.6 439.6L322.2 437.9L322.9 436.6L323.5 436.1L324.2 434.4L324.8 433.2L325.5 431.3L326.6 432.8L327.7 432.6L328.8 433.7L329.3 435.5L329.7 437.0L330.2 437.7L330.6 439.1L331.1 440.7L331.6 441.4L332.0 443.5L332.5 444.9L332.9 445.9L333.4 447.6L333.8 448.9L334.2 450.0L334.6 451.3L335.0 452.8L335.4 453.4L335.9 454.9L336.3 455.9L336.7 457.6L337.1 458.4L337.5 459.9L337.9 461.0L338.4 462.3L338.9 464.0L339.4 464.7L339.9 466.4L340.4 467.5L340.9 468.9L341.4 469.7L341.9 471.2L342.4 472.4L343.3 473.2L344.3 474.5L345.2 475.6L346.1 476.7L347.1 478.2L348.0 478.8L349.1 477.7L350.2 476.8L351.4 476.3L352.5 475.4L353.6 474.5L354.8 473.5L355.9 472.7L357.3 471.7L358.8 471.2L360.2 470.3L361.6 470.2L361.9 469.1L362.2 467.8L362.6 465.6L362.9 465.1L363.2 464.0L363.5 462.5L363.9 460.5L364.2 459.6L364.5 458.5L364.8 457.2L365.1 455.5L365.5 454.2L365.8 453.5L366.1 451.5L366.3 451.0L366.6 449.3L366.8 448.1L367.1 446.4L367.3 445.3L367.6 444.4L367.8 442.5L368.0 442.2L368.3 439.9L368.5 438.7L368.8 437.8L369.0 436.6L369.3 435.4L369.5 433.8L369.8 432.5L370.2 431.1L370.5 429.7L370.9 427.7L371.2 427.4L371.5 425.8L371.9 424.4L372.2 422.8L372.6 421.7L372.9 420.3L374.0 421.0L375.1 422.2L376.2 422.1L376.4 424.0L376.7 425.0L376.9 426.6L377.1 428.4L377.4 429.0L377.6 430.7L377.8 431.9L378.0 433.7L378.3 434.5L378.5 435.6L378.7 437.6L379.0 438.7L379.2 440.1L379.4 441.9L379.6 442.6L379.9 444.2L380.1 445.7L380.3 447.1L380.6 448.2L380.8 450.0L380.9 451.7L381.0 452.2L381.2 454.2L381.3 454.3L381.4 456.6L381.5 457.4L381.6 458.9L381.8 460.1L381.9 461.3L382.0 462.4L382.1 464.0L382.3 465.8L382.4 467.0L382.5 467.9L382.7 469.2L382.8 470.4L383.0 471.6L383.1 473.8L383.3 474.7L383.4 475.9L383.6 477.0L383.7 478.2L383.9 480.1L384.0 481.3L384.2 482.1L384.3 484.0L384.5 484.7L384.7 486.5L384.9 487.4L385.2 488.9L385.4 490.5L385.6 491.8L385.8 493.3L386.1 494.1L386.3 496.1L386.5 497.4L387.0 498.4L387.5 499.9L388.0 500.9L388.5 502.4L389.0 503.4L390.1 504.6L391.3 505.4L392.4 506.5L393.5 507.1L394.7 507.9L395.8 508.3L397.2 508.8L398.5 509.2L399.9 509.8L401.2 509.6L402.6 510.8L403.9 509.9L405.3 510.0L406.6 509.9L408.0 509.6L409.3 510.0L410.7 509.5L412.0 510.0L413.4 509.8L414.7 509.4L416.1 509.6L417.5 510.1L418.8 509.8L420.2 510.2L421.5 510.2L422.9 510.6L424.0 511.2L425.1 512.0L426.3 512.9L427.4 513.7L428.5 514.0L429.9 514.3L431.4 514.8L432.8 514.7L434.2 514.8L435.3 514.7L436.4 513.5L437.6 513.3L438.7 512.1L439.8 512.2L440.9 510.6L442.1 510.3L443.2 509.7L444.3 508.2L445.4 508.1L446.6 506.7L447.7 505.6L449.1 506.1L450.4 505.9L451.8 505.4L453.1 504.5L454.5 505.0L456.0 505.1L457.5 505.3L459.0 505.5L460.5 505.2L462.0 505.8L463.5 506.6L464.8 506.4L466.1 505.7L467.4 505.4L468.7 505.6L470.0 505.6L471.3 505.4L472.6 504.7L473.9 505.3L475.3 505.5L476.6 506.1L478.0 506.2L479.3 506.3L480.7 506.7L482.0 506.4L483.4 507.2L484.7 506.9L486.1 507.3L487.5 507.0L488.8 506.1L490.2 505.7L491.5 504.9L492.9 505.0L494.4 505.0L495.9 504.9L497.4 505.1L498.9 504.4L500.4 505.0L501.9 505.0L503.3 504.7L504.6 504.7L506.0 504.8L507.3 503.9L508.7 503.5L509.6 504.8L510.4 506.1L511.2 507.4L512.1 508.2L513.2 509.4L514.3 509.6L515.4 510.8L516.5 509.6L517.7 508.5L518.9 507.8L520.0 506.0L521.5 505.3L523.0 504.7L524.5 504.0L525.6 504.3L526.8 505.6L527.9 506.1L529.0 507.4L530.4 507.3L531.8 506.7L533.2 506.3L534.6 506.2L535.7 506.1L536.7 508.1L537.8 509.0L538.9 509.7L539.9 510.5L541.0 511.3L542.2 512.2L543.4 513.3L544.6 513.6L545.8 514.8L547.0 514.4L548.4 515.0L549.9 515.2L551.3 515.1L552.8 514.6L554.2 514.9L555.2 514.6L556.3 513.0L557.3 512.2L558.3 511.4L559.3 510.7L560.4 510.1L561.4 509.3L562.8 508.8L564.3 510.0L565.7 509.6L567.2 509.9L568.6 510.8L570.0 510.1L571.4 509.5L572.8 509.5L574.2 509.3L575.6 509.0L577.0 509.0L578.2 508.7L579.4 507.8L580.6 506.6L581.8 507.2L583.0 505.4L584.2 505.0L585.4 504.3L586.8 504.5L588.3 504.2L589.7 504.4L591.2 504.9L592.6 504.3L593.8 503.2L595.0 502.8L596.2 501.7L597.3 501.0L598.5 500.4L599.7 499.6L601.1 499.1L602.4 499.1L603.8 498.5L605.1 497.9L606.5 498.3L607.8 497.6L609.1 497.7L610.5 496.9L611.7 498.1L612.9 498.8L614.1 498.7L615.3 499.9L616.5 500.8L617.7 502.3L618.2 500.2L618.8 499.8L619.3 498.6L619.9 497.2L620.4 496.1L621.0 494.6L621.5 493.5L622.1 492.4L622.6 491.2L623.2 490.1L623.7 488.6L624.9 487.8L626.1 487.1L627.3 486.7L628.5 485.3L629.7 484.7L630.9 484.4L632.1 483.7L633.3 483.2L634.5 481.9L635.0 481.4L635.5 480.2L636.0 479.3L636.6 477.3L637.1 476.6L637.6 475.6L638.1 474.4L639.3 473.8L640.5 473.0L641.7 471.6L642.3 473.3L642.9 474.2L643.5 475.3L644.1 477.1L644.7 477.7L645.3 478.9L646.3 479.9L647.2 480.8L648.2 482.3L649.1 483.0L650.1 484.3L651.3 484.9L652.5 485.5L653.7 486.9L654.9 487.3L655.7 488.6L656.5 489.9L657.3 491.1L658.1 492.6L658.9 493.3L659.7 494.8L661.1 494.7L662.6 494.3L664.0 494.4L665.5 494.6L666.9 494.8L668.3 494.8L669.8 494.8L671.2 494.7L672.7 494.6L674.1 494.8L675.6 495.0L677.1 495.5L678.6 496.4L680.1 496.7L680.8 498.2L681.5 499.3L682.2 500.5L682.8 501.9L683.5 502.9L684.2 504.2L684.9 505.0L685.7 506.7L686.5 507.6L687.3 509.2L688.1 509.5L688.9 511.3L689.7 512.8L690.7 510.8L691.6 510.2L692.6 509.1L693.5 507.9L694.5 506.3L696.3 506.8L698.1 506.7" fill="none" stroke="#f516f0" stroke-width="4.8" stroke-linejoin="round" stroke-linecap="round"/>
<path d="M71.4 601.6L71.7 603.9L72.0 604.8L72.3 606.1L72.7 607.1L73.0 609.0L73.3 610.1L73.6 612.0L75.3 612.1L77.0 612.0L77.7 613.6L78.4 615.7L79.0 616.3L79.7 618.1L80.4 619.5L81.2 620.2L81.9 620.1L82.7 622.6L83.4 623.8L84.2 624.9L84.9 625.5L86.4 626.2L87.9 625.1L89.4 624.4L90.0 623.1L90.5 622.4L91.1 620.2L91.7 619.0L92.2 619.4L92.8 617.7L93.2 616.3L93.7 615.2L94.1 613.5L94.6 611.0L95.0 611.4L95.5 610.2L96.0 608.5L96.4 605.8L96.8 606.5L97.3 605.3L97.5 602.9L97.8 601.9L98.0 600.9L98.2 599.0L98.4 598.4L98.7 596.4L98.9 595.4L99.1 593.7L99.3 591.5L99.6 590.4L99.8 591.5L100.0 588.4L100.2 587.7L100.5 586.2L100.7 585.2L100.9 583.2L101.2 581.3L101.4 580.3L101.7 577.9L101.9 577.6L102.2 577.0L102.4 573.9L102.6 574.0L102.9 573.0L103.1 572.0L103.4 569.4L103.6 568.3L103.9 566.3L104.1 565.5L104.3 565.1L104.6 564.6L104.8 561.4L105.0 561.5L105.2 559.6L105.5 557.7L105.7 557.9L105.9 553.8L106.2 553.9L106.4 552.7L107.5 554.9L108.6 555.8L108.8 557.5L108.9 557.6L109.1 559.4L109.2 561.0L109.4 561.9L109.5 563.1L109.7 564.2L109.8 565.4L110.0 566.3L110.1 569.5L110.3 569.4L110.4 569.8L110.6 572.5L110.7 573.7L110.9 575.2L111.3 577.4L111.8 577.6L112.2 578.8L112.6 579.8L113.0 581.5L113.5 582.5L113.9 584.1L114.3 587.1L114.6 586.9L114.9 587.5L115.2 590.4L115.5 591.1L115.8 592.5L116.2 593.7L116.5 595.1L116.8 596.4L117.1 598.2L117.4 599.3L117.7 600.8L118.0 601.0L118.2 602.6L118.5 603.5L118.8 605.8L119.1 607.1L119.3 607.6L119.6 609.6L119.9 612.1L120.2 612.6L120.5 612.5L120.7 614.4L121.0 616.2L122.1 615.0L123.3 614.5L124.4 614.2L125.2 614.8L126.1 615.1L127.0 617.3L127.8 617.9L129.3 618.5L130.8 618.5L132.3 618.4L133.2 619.6L134.1 621.2L135.0 621.9L135.9 622.1L136.8 625.5L138.3 624.5L139.9 625.1L141.4 626.2L142.2 623.4L142.9 624.5L143.7 622.1L144.4 621.8L145.2 620.0L145.9 619.4L146.8 620.4L147.6 621.4L148.5 621.5L149.3 622.8L150.3 622.5L151.2 622.3L152.2 620.0L153.1 619.5L154.1 618.2L155.0 617.2L156.0 616.4L156.7 616.1L157.3 618.2L158.0 619.1L158.6 620.1L159.3 620.9L159.9 622.1L160.6 623.1L161.4 621.9L162.2 622.9L163.0 621.3L163.8 619.2L164.6 618.5L165.4 616.4L166.2 614.2L167.6 614.2L169.0 614.7L170.4 614.9L171.8 613.5L173.0 613.8L174.1 615.1L175.2 615.5L176.4 616.1L177.1 618.1L177.7 619.4L178.4 620.5L179.0 621.8L179.7 623.2L181.1 624.1L182.6 625.1L184.0 624.4L185.4 626.1L186.5 624.5L187.6 626.3L188.8 626.2L189.9 627.4L191.0 628.3L192.1 627.4L193.2 626.6L194.4 624.5L195.5 623.0L196.6 624.3L197.8 625.2L198.9 625.3L200.1 626.9L201.2 628.1L202.1 625.3L203.1 625.4L204.0 624.8L204.9 622.2L205.9 622.5L206.8 621.3L207.8 619.5L208.7 619.9L209.7 618.2L210.6 616.7L211.6 616.1L212.5 615.1L213.9 614.8L215.3 614.4L216.7 614.0L218.1 612.8L219.0 614.4L219.9 615.9L220.8 615.3L221.7 619.3L222.6 619.0L223.8 618.0L225.0 616.9L225.8 619.3L226.7 620.3L227.6 621.1L228.4 622.4L229.3 620.9L230.2 619.9L231.1 619.1L232.0 617.7L232.9 617.3L234.0 615.7L235.2 614.7L236.3 613.8L237.4 613.1L238.5 613.6L239.7 614.2L240.8 614.9L241.9 615.3L243.0 614.8L244.2 614.7L245.3 613.6L246.2 614.4L247.0 615.0L247.8 616.0L248.7 618.2L250.2 617.9L251.7 616.8L253.2 615.0L254.7 616.0L256.2 616.7L257.7 616.4L258.6 618.2L259.6 619.0L260.5 619.8L261.5 620.7L262.4 623.0L263.4 623.9L264.1 622.0L264.9 620.8L265.6 620.8L266.4 619.5L267.1 617.9L267.9 617.8L268.6 617.9L269.3 618.5L270.0 620.9L270.7 621.3L271.4 622.7L272.1 623.7L272.8 624.2L273.5 625.2L274.6 624.7L275.8 624.5L276.9 621.9L278.0 622.2L278.9 622.5L279.9 622.7L280.9 624.4L281.8 625.5L282.8 625.6L283.7 625.9L284.4 626.2L285.2 624.2L285.9 624.0L286.7 621.5L287.4 621.4L288.2 619.8L289.7 620.2L291.2 621.7L292.7 622.7L294.2 622.6L295.7 622.6L297.2 623.8L298.3 623.5L299.4 625.7L300.6 626.5L301.7 628.1L302.1 626.4L302.5 624.8L302.8 623.5L303.2 622.1L303.6 620.0L304.0 620.4L304.3 618.6L304.7 616.9L305.1 615.1L306.2 617.8L307.4 618.4L308.5 618.5L309.2 618.5L309.9 618.0L310.5 615.8L311.2 614.9L311.9 613.3L312.2 611.7L312.5 611.3L312.8 611.1L313.0 607.9L313.3 606.4L313.6 605.5L313.9 603.4L314.2 602.6L314.8 601.4L315.5 599.0L316.1 597.7L316.8 597.0L317.4 596.3L318.1 594.6L318.7 593.9L319.4 591.3L320.2 591.2L320.9 589.4L321.7 588.7L322.4 587.7L323.2 585.8L324.3 587.4L325.4 588.0L326.6 589.9L327.7 590.4L329.2 590.2L330.7 590.3L332.2 589.4L332.6 591.7L333.1 592.0L333.5 594.1L333.9 595.1L334.3 595.6L334.8 597.3L335.2 598.2L335.6 599.8L336.5 601.0L337.4 603.3L338.3 603.1L339.2 605.4L340.1 605.9L341.6 604.5L343.1 603.5L344.6 604.9L345.3 604.6L346.0 607.5L346.7 608.9L347.5 609.8L348.2 610.8L348.9 612.0L349.6 613.6L350.3 614.5L350.8 613.1L351.3 612.0L351.8 611.6L352.3 609.3L352.8 608.6L353.3 606.5L353.8 605.5L354.3 603.9L354.8 603.3L355.7 602.8L356.7 601.7L357.6 600.3L358.5 600.0L359.5 598.4L360.4 597.9L362.1 598.4L363.8 599.1L364.5 598.5L365.2 600.3L365.8 602.7L366.5 603.3L367.2 605.8L367.7 603.1L368.2 601.6L368.7 601.5L369.1 599.7L369.6 599.2L370.1 597.1L370.6 595.4L371.0 594.6L371.5 592.5L371.9 591.4L372.3 590.1L372.7 589.0L373.1 588.3L373.6 586.3L374.0 585.5L375.5 584.2L377.0 584.3L378.5 581.4L379.4 584.0L380.2 585.4L381.0 585.8L381.9 588.2L382.1 589.0L382.3 590.9L382.5 592.1L382.7 593.2L382.9 594.0L383.1 594.8L383.3 596.6L383.5 597.7L383.7 599.4L383.9 600.3L384.1 603.7L384.3 602.3L384.5 605.2" fill="none" stroke="#1717f5" stroke-width="4.5" stroke-linejoin="round" stroke-linecap="round"/>
<path d="M384.5 604.0L386.0 604.2L387.5 605.5L389.0 604.5L389.4 604.5L389.8 607.4L390.1 608.1L390.5 607.4L390.9 611.0L391.3 610.9L391.6 612.5L392.0 615.0L392.4 616.1L393.0 616.8L393.5 620.7L394.1 620.2L394.7 620.4L395.2 622.6L395.8 623.6L396.6 620.1L397.3 619.4L398.1 618.3L398.8 620.6L399.6 616.9L400.3 615.5L401.2 616.1L402.2 618.7L403.1 618.6L404.1 621.3L405.1 621.3L406.0 623.1L406.6 620.0L407.1 619.3L407.7 617.2L408.2 616.2L408.8 613.3L409.4 613.2L409.9 611.6L410.5 610.6L412.0 612.6L413.5 611.6L415.0 612.6L416.1 611.3L417.2 610.6L418.4 609.8L419.5 607.3L420.6 609.6L421.8 609.3L422.9 609.9L424.0 612.5L425.1 614.5L426.3 612.1L427.4 615.8L428.6 615.8L429.7 614.9L430.8 616.9L431.9 617.9L433.1 618.7L434.2 618.8L434.5 619.2L434.9 621.9L435.2 624.1L435.6 625.4L435.9 626.6L436.2 628.4L436.6 627.6L436.9 630.0L437.3 631.7L437.6 633.7L437.9 631.5L438.2 630.6L438.4 628.9L438.7 629.6L439.0 623.8L439.2 624.8L439.5 626.1L439.8 622.4L440.1 618.9L440.3 619.7L440.6 616.7L440.9 616.2L441.7 616.0L442.4 616.4L443.2 614.0L444.0 613.1L444.7 612.3L445.5 610.3L446.6 608.4L447.8 608.3L448.9 607.9L450.0 606.4L451.5 605.3L453.0 604.9L454.5 602.9L455.6 604.3L456.8 606.1L457.9 606.7L459.0 607.9L459.5 610.6L460.0 610.7L460.5 611.6L461.0 611.7L461.5 613.1L462.0 615.8L462.5 615.8L463.0 618.4L463.5 618.1L464.0 618.0L464.5 616.5L465.0 616.3L465.4 613.6L465.9 612.3L466.4 611.7L466.9 610.2L468.4 611.5L469.9 609.1L471.4 608.4L472.3 609.8L473.2 611.8L474.1 612.7L475.0 614.3L475.9 613.3L477.4 617.6L479.0 617.3L480.5 615.8L481.2 615.8L481.9 618.5L482.6 620.0L483.3 618.5L484.0 622.1L484.7 621.8L485.4 625.1L486.1 627.3L486.9 625.9L487.6 622.1L488.4 624.0L489.1 622.4L489.9 619.9L490.6 619.7L491.3 619.6L492.0 616.6L492.7 615.8L493.5 614.1L494.2 614.7L494.9 610.1L495.6 612.7L496.3 609.1L496.7 612.3L497.1 611.0L497.5 613.0L498.0 614.6L498.4 617.3L498.8 616.1L499.2 619.7L499.6 619.6L500.8 620.7L501.9 618.3L503.1 618.3L504.2 616.7L504.8 620.0L505.5 619.1L506.1 620.7L506.8 624.1L507.4 623.4L508.1 625.3L508.7 625.1L509.1 624.7L509.5 620.8L509.8 621.9L510.2 619.7L510.6 617.4L511.0 616.2L511.3 617.4L511.7 615.3L512.1 611.9L512.6 616.7L513.0 615.4L513.5 617.0L514.0 619.0L514.5 618.8L514.9 619.6L515.4 621.8L516.5 623.0L517.7 621.9L518.9 618.4L520.0 620.5L520.3 617.8L520.7 616.9L521.0 615.1" fill="none" stroke="#1717f5" stroke-width="5.4" stroke-linejoin="round" stroke-linecap="round"/>
<path d="M71.4 742.4L71.8 740.5L72.1 739.2L72.5 738.0L72.9 736.8L73.2 735.9L73.6 733.8L74.4 736.1L75.1 736.3L75.9 737.5L76.1 739.3L76.2 740.5L76.4 741.4L76.6 742.4L76.7 743.8L76.9 744.8L77.1 747.2L77.2 748.5L77.4 750.1L77.5 750.8L77.7 752.1L77.9 753.5L78.0 754.9L78.2 755.7L78.5 757.3L78.8 759.3L79.0 759.1L79.3 760.5L79.6 762.0L79.8 764.0L80.1 765.5L80.4 766.2L80.7 767.9L81.0 768.9L81.2 770.4L81.5 771.4L82.3 772.7L83.0 773.9L83.8 775.5L84.6 777.0L85.3 776.5L86.1 778.6L87.6 778.4L89.1 778.8L90.6 778.8L91.2 777.4L91.9 776.1L92.5 774.1L93.2 772.5L93.8 772.6L94.5 771.1L95.1 768.9L95.3 768.5L95.6 767.0L95.8 764.5L96.1 764.5L96.3 762.5L96.6 762.1L96.8 760.0L97.0 758.7L97.3 757.1L97.5 756.4L97.8 755.6L98.0 753.6L98.3 751.8L98.5 752.2L98.7 750.7L98.9 749.0L99.0 747.2L99.2 745.6L99.4 744.1L99.6 743.7L99.8 742.7L99.9 740.4L100.1 739.5L100.3 738.1L100.5 736.8L100.6 735.8L100.8 735.1L101.0 732.7L101.2 732.0L101.4 730.8L101.5 728.9L101.7 727.7L101.9 725.9L102.0 725.5L102.1 723.6L102.2 722.2L102.4 721.2L102.5 719.5L102.6 718.1L102.7 717.1L102.8 716.6L102.9 714.6L103.1 713.6L103.2 711.4L103.3 709.9L103.4 710.2L103.5 708.0L103.6 706.2L103.8 705.5L103.9 704.5L104.0 702.2L104.1 701.2L104.3 700.4L104.4 698.6L104.6 698.0L104.8 696.8L104.9 695.3L105.1 693.7L105.2 692.5L105.4 691.0L105.6 689.9L105.7 688.8L105.9 687.3L106.1 686.5L106.2 685.8L106.4 683.3L107.5 684.8L108.6 686.1L108.8 687.4L109.0 688.3L109.2 689.6L109.4 691.5L109.6 692.6L109.8 693.9L109.9 694.7L110.1 696.6L110.3 698.0L110.5 698.9L110.7 700.5L110.9 702.5L111.1 702.2L111.3 704.5L111.5 705.1L111.7 706.4L111.9 708.2L112.1 709.8L112.3 710.9L112.5 711.8L112.7 713.0L112.9 714.7L113.1 716.2L113.3 717.2L113.5 718.3L113.7 720.9L113.9 721.2L114.1 722.8L114.3 724.0L114.5 725.3L114.8 726.9L115.0 728.1L115.2 729.9L115.4 730.5L115.7 731.7L115.9 734.5L116.1 735.0L116.3 736.7L116.6 738.2L116.8 739.3L117.0 740.5L117.2 741.2L117.5 742.5L117.7 744.9L117.9 746.1L118.2 747.3L118.4 747.7L118.6 748.8L118.9 750.5L119.1 751.8L119.3 753.6L119.6 754.4L119.8 756.8L120.1 757.2L120.3 758.5L120.5 760.4L120.8 761.4L121.0 762.2L122.2 764.1L123.3 765.6L124.4 765.5L125.6 767.0L126.7 767.4L127.8 767.8L128.9 769.6L129.6 770.9L130.3 772.4L130.9 773.6L131.6 773.9L132.3 776.1L133.2 777.0L134.0 777.9L134.8 779.0L135.7 780.9L136.6 779.4L137.5 779.2L138.4 777.4L139.3 775.3L140.2 775.4L141.6 774.9L143.1 773.9L144.5 772.8L145.9 773.4L147.3 771.9L148.7 772.1L150.1 771.1L151.5 771.1L152.2 769.8L152.9 769.8L153.5 768.7L154.2 766.9L154.9 765.3L156.0 764.8L157.2 763.9L158.3 762.0L159.1 763.2L159.8 764.8L160.6 766.2L161.3 767.1L162.1 768.4L162.8 768.8L163.9 767.2L165.1 767.2L166.2 765.5L167.3 764.7L167.7 763.4L168.2 762.5L168.6 760.7L169.0 760.3L169.4 758.5L169.8 757.4L170.3 756.2L170.7 755.1L172.4 754.3L174.1 752.8L175.2 754.4L176.4 756.5L177.5 757.1L177.9 758.5L178.3 759.8L178.6 760.8L179.0 762.1L179.4 763.5L179.8 765.6L180.1 766.7L180.5 768.7L180.9 769.5L181.5 771.4L182.2 772.1L182.8 772.7L183.5 775.2L184.1 775.9L184.8 777.6L185.4 778.5L186.8 778.8L188.2 779.6L189.6 779.6L191.0 780.1L192.1 779.3L193.3 778.6L194.4 777.3L195.6 777.0L196.7 776.2L197.8 775.8L198.9 774.6L200.1 772.7L201.2 772.0L202.3 770.7L203.4 770.1L204.6 769.0L205.7 768.0L206.1 766.9L206.5 764.8L206.8 764.2L207.2 762.6L207.6 760.9L208.0 759.8L208.3 758.8L208.7 756.9L209.1 756.0L209.8 754.7L210.5 753.7L211.1 751.3L211.8 750.3L212.5 749.2L214.0 750.4L215.5 750.6L217.0 751.6L217.8 751.8L218.7 753.3L219.6 755.4L220.4 755.7L221.5 755.9L222.7 754.0L223.8 753.4L225.0 752.8L226.1 754.9L227.2 755.9L228.4 757.7L229.5 758.1L230.1 756.6L230.8 754.8L231.4 754.1L232.1 753.2L232.7 751.9L233.4 750.8L234.0 749.4L234.8 747.9L235.7 747.0L236.6 745.7L237.4 743.9L238.5 746.1L239.7 746.4L240.8 746.6L241.9 748.1L243.4 747.6L244.9 747.5L246.4 747.3L247.2 746.6L248.1 749.2L249.0 750.8L249.8 750.9L250.6 751.8L251.3 754.0L252.1 755.4L252.8 756.7L253.6 757.4L254.3 759.0L255.8 760.0L257.4 761.0L258.9 762.3L260.0 760.6L261.1 759.3L262.3 757.7L263.4 758.2L264.5 756.8L265.6 757.6L266.8 758.0L267.9 759.5L268.6 759.8L269.4 761.9L270.1 763.2L270.9 764.6L271.6 766.3L272.4 767.1L273.1 766.0L273.9 765.2L274.6 763.1L275.4 762.4L276.1 761.5L276.9 760.7L278.0 760.7L279.2 762.2L280.3 762.8L280.9 763.3L281.4 764.6L282.0 766.0L282.6 767.9L283.1 769.3L283.7 770.8L285.2 770.8L286.7 770.3L288.2 770.9L289.1 771.8L290.1 772.6L291.0 773.5L291.9 773.7L292.9 775.3L293.8 775.7L295.2 775.6L296.6 776.0L298.1 776.2L299.5 776.1L300.6 776.8L301.8 777.4L302.9 778.7L304.0 779.2L304.9 778.0L305.9 777.6L306.9 777.3L307.8 775.5L308.8 774.3L309.7 774.4L311.0 774.7L312.3 774.1L313.6 774.3L315.0 774.7L316.3 776.0L317.6 775.1L318.9 775.4L320.3 775.2L321.6 774.2L323.0 774.5L324.3 774.5L325.7 775.6L327.0 775.9L328.4 777.1L329.7 776.6L331.1 777.3L332.6 777.2L334.1 777.3L335.6 778.2L336.7 778.2L337.9 779.5L339.0 780.3L340.1 780.3L340.8 779.8L341.5 778.2L342.2 777.3L343.0 776.2L343.7 775.0L344.4 773.7L345.1 773.4L345.8 771.5L346.9 772.7L348.1 774.0L349.2 774.4L350.3 775.4L351.2 774.4L352.2 773.2L353.1 772.3L354.0 769.9L355.0 770.2L355.9 768.2L357.0 768.6L358.2 770.2L359.3 771.0L360.0 773.0L360.7 773.7L361.3 775.3L362.0 777.2L362.7 778.5L363.4 776.7L364.2 775.7L364.9 774.4L365.7 773.2L366.4 771.8L367.2 770.4L368.3 772.0L369.4 772.1L370.6 773.7L371.7 775.1L372.6 773.7L373.5 772.5L374.4 771.4L375.3 770.5L376.2 769.8L377.7 768.9L379.3 768.5L380.8 768.3L382.6 768.1L384.5 767.4L385.6 767.2L386.8 765.8L387.9 764.6L389.0 764.0L389.9 764.8L390.8 765.7L391.7 766.1L392.6 767.5L393.5 769.3L394.3 770.4L395.0 771.8L395.8 772.8L396.6 773.6L397.3 774.4L398.1 775.6L398.7 774.8L399.4 773.0L400.0 772.6L400.7 770.4L401.3 768.9L402.0 768.3L402.6 766.4L403.7 766.7L404.9 764.4L406.0 763.7L407.1 762.5L407.9 763.6L408.6 764.5L409.4 765.8L410.1 768.2L410.9 769.6L411.6 771.4L413.1 769.1L414.6 769.2L416.1 768.2L417.5 768.8L419.0 768.5L420.4 769.3L421.8 769.7L422.9 770.5L424.0 771.7L425.2 771.9L426.3 773.5L427.4 773.5L428.8 774.7L430.1 773.1L431.5 774.5L432.8 774.4L434.2 775.0L435.5 775.4L436.9 775.3L438.2 775.0L439.6 775.7L440.9 774.4L442.2 773.9L443.5 774.1L444.9 772.9L446.2 771.1L447.5 771.4L448.8 770.0L450.2 771.8L451.5 772.3L452.9 772.3L454.2 773.7L455.6 773.4L456.9 774.4L458.2 774.4L459.6 774.3L460.9 774.0L462.2 774.7L463.5 774.0L464.9 774.8L466.2 774.2L467.6 775.5L468.9 774.6L470.3 774.0L471.8 775.0L473.3 774.8L474.8 774.2L476.3 775.1L477.8 774.3L479.3 773.8L480.4 774.7L481.6 774.9L482.7 777.5L483.8 778.8L484.8 777.0L485.7 775.5L486.6 775.0L487.6 773.2L488.6 772.7L489.5 771.9L490.6 773.1L491.8 773.4L492.9 774.2L494.0 775.3L495.1 776.7L496.2 777.1L497.4 777.9L498.5 779.2L499.2 777.8L500.0 776.9L500.8 776.0L501.5 775.1L502.2 773.9L503.0 772.7L504.5 772.2L506.0 772.1L507.5 772.0L508.4 773.0L509.3 774.5L510.2 774.8L511.1 776.0L512.0 777.9L513.5 776.9L515.1 776.6L516.6 776.0L517.7 777.6L518.9 778.2L520.0 779.1L520.5 778.2L521.0 776.8L521.5 776.1L522.0 774.3L522.5 773.3L523.0 771.9L523.5 770.9L524.0 769.2L524.5 768.7L525.1 768.9L525.8 770.6L526.4 771.8L527.1 773.6L527.7 774.6L528.4 776.1L529.0 777.1L529.8 775.6L530.5 774.1L531.2 773.1L532.0 771.7L532.8 770.7L533.5 769.4L534.8 770.5L536.0 770.8L537.3 771.3L538.5 771.9L539.8 773.1L540.8 774.1L541.9 775.6L542.9 775.7L543.9 777.3L544.9 778.2L546.0 777.8L547.0 779.6L548.2 779.0L549.4 778.5L550.6 777.3L551.8 777.1L553.0 775.9L554.2 775.5L555.2 774.7L556.3 774.5L557.3 772.8L558.3 772.5L559.3 771.2L560.4 770.1L561.4 769.6L562.4 770.8L563.4 771.2L564.4 772.8L565.4 773.2L566.4 774.1L567.4 775.6L568.6 774.7L569.8 773.6L571.0 772.7L572.2 772.6L573.4 772.0L574.8 771.3L576.2 771.2L577.6 770.1L579.0 770.5L580.4 770.1L581.8 769.6L583.0 770.0L584.2 771.0L585.4 771.7L586.6 772.8L587.8 773.2L589.2 772.7L590.7 771.8L592.1 772.0L593.6 771.7L595.0 770.5L596.4 770.8L597.7 770.5L599.1 770.2L600.4 769.5L601.8 770.6L603.1 768.9L604.5 769.6L605.7 769.9L606.9 771.2L608.1 771.1L609.3 771.9L610.5 772.8L611.7 773.3L612.9 773.5L614.1 774.6L615.3 775.1L616.5 775.9L617.7 775.9L618.9 776.7L619.9 775.3L620.8 773.9L621.8 773.2L622.7 772.1L623.7 771.3L624.7 769.4L625.6 768.5L626.6 767.6L627.5 765.9L628.5 764.7L630.0 764.2L631.5 763.2L633.0 762.5L634.5 762.8L635.7 763.3L636.9 764.1L638.1 764.5L639.3 765.9L640.5 765.2L641.7 763.0L642.9 761.9L643.5 761.6L644.1 760.5L644.7 759.3L645.3 757.3L645.9 756.6L646.5 754.8L647.0 756.7L647.5 757.7L648.0 759.3L648.6 761.1L649.1 762.1L649.6 763.2L650.1 764.7L651.3 766.0L652.5 766.9L653.7 768.4L654.4 769.8L655.1 771.4L655.9 771.0L656.6 772.6L657.3 773.8L657.9 773.5L658.5 772.9L659.1 770.8L659.7 769.6L660.3 768.8L660.9 766.1L662.1 766.4L663.3 764.6L664.5 765.4L665.7 764.5L667.2 763.9L668.7 763.6L670.2 762.7L671.7 762.8L673.2 762.3L674.7 762.5L676.2 763.4L677.7 762.1L678.7 763.9L679.6 764.4L680.6 766.4L681.5 767.5L682.5 768.4L683.5 769.9L684.4 771.4L685.4 772.5L686.3 773.1L687.3 774.3L688.5 774.2L689.7 772.5L690.9 772.2L692.1 772.1L693.0 773.2L693.8 774.7L694.7 775.7L695.5 776.1L696.4 777.2L697.2 777.5L698.1 779.0" fill="none" stroke="#f81616" stroke-width="4.5" stroke-linejoin="round" stroke-linecap="round"/>
<path d="M71.4 899.7L73.1 899.5L74.8 899.6L75.4 901.1L75.9 901.9L76.5 903.3L77.1 904.2L77.6 906.6L78.2 907.1L79.7 907.7L81.2 909.3L82.7 909.7L84.2 910.9L85.7 911.2L87.2 912.9L88.3 913.1L89.5 913.6L90.6 914.3L91.2 912.9L91.7 912.0L92.3 911.1L92.9 908.9L93.4 907.3L94.0 906.6L95.1 905.6L96.2 903.6L97.3 902.8L98.4 903.4L99.6 904.7L100.7 905.5L100.9 903.7L101.0 902.2L101.2 901.4L101.4 899.1L101.5 898.7L101.7 897.0L101.8 896.4L102.0 894.7L102.2 892.8L102.3 891.5L102.5 890.1L102.7 888.6L102.8 887.5L103.0 886.4L103.1 884.2L103.2 883.3L103.3 882.6L103.4 880.9L103.5 879.0L103.7 877.7L103.8 876.3L103.9 874.7L104.0 874.3L104.1 872.6L104.2 870.9L104.3 869.3L104.4 868.3L104.5 866.9L104.7 866.4L104.8 864.3L104.9 863.1L105.0 862.1L105.1 860.6L105.2 858.9L105.3 856.9L105.4 856.8L105.5 855.2L105.6 853.5L105.7 852.3L105.8 850.7L105.9 849.4L106.0 847.8L106.1 847.2L106.2 845.9L106.3 844.4L106.5 843.3L106.6 841.9L106.7 840.4L106.8 838.7L106.9 837.9L107.0 836.8L107.1 835.3L107.2 834.1L107.3 832.2L107.4 830.7L107.5 830.1L108.3 828.0L109.0 826.7L109.8 825.0L110.0 826.5L110.2 827.7L110.5 829.0L110.7 829.9L110.9 832.6L111.1 833.3L111.3 833.9L111.6 835.7L111.8 836.9L112.0 838.4L112.1 839.2L112.2 841.6L112.3 843.3L112.5 844.0L112.6 845.7L112.7 847.0L112.8 847.7L112.9 850.0L113.0 850.3L113.2 852.0L113.3 853.5L113.4 855.4L113.5 856.4L113.6 857.6L113.7 858.7L113.8 860.4L114.0 861.7L114.1 863.3L114.2 864.9L114.3 866.1L114.5 867.2L114.7 868.4L115.0 870.4L115.2 871.3L115.4 872.5L115.6 874.5L115.8 875.8L116.1 876.8L116.3 877.9L116.5 879.1L118.2 879.1L119.9 878.0L120.3 879.8L120.8 880.5L121.2 882.1L121.6 883.4L122.0 884.6L122.5 885.9L122.9 887.3L123.3 888.0L123.5 889.4L123.7 891.1L123.8 893.2L124.0 893.9L124.2 895.0L124.4 896.5L124.5 898.1L124.7 899.9L124.9 900.7L125.1 902.4L125.2 903.7L125.4 904.9L125.6 906.1L126.4 907.5L127.2 908.4L128.1 910.0L128.9 910.3L130.4 910.9L132.0 910.4L133.5 910.0L134.6 911.5L135.8 912.3L136.9 912.6L138.0 914.3L138.8 913.3L139.5 911.8L140.2 910.5L141.0 909.9L141.8 908.8L142.5 907.4L144.0 908.2L145.5 908.9L147.0 909.6L148.5 909.8L150.0 910.2L151.5 909.2L153.0 909.3L154.5 909.6L156.0 908.8L157.4 909.3L158.8 910.1L160.3 910.0L161.7 910.5L163.1 910.3L164.5 910.4L165.9 911.0L167.3 911.2L168.4 909.6L169.6 908.4L170.7 907.7L171.8 906.6L172.3 905.2L172.8 903.2L173.3 902.4L173.8 900.5L174.4 900.2L174.9 898.6L175.4 897.4L175.9 896.9L176.4 895.6L178.1 895.9L179.7 896.4L180.1 897.7L180.5 898.9L180.8 900.4L181.2 902.5L181.6 902.9L182.0 904.3L182.3 906.0L182.7 907.6L183.1 909.0L184.2 909.5L185.4 910.9L186.5 912.0L187.8 911.5L189.1 911.7L190.4 911.3L191.8 911.6L193.1 911.3L194.4 910.6L195.7 910.6L197.0 910.1L198.3 909.7L199.5 909.5L200.8 909.7L202.1 908.9L203.4 908.1L204.7 908.1L206.0 908.3L207.3 908.5L208.6 907.0L209.9 906.9L211.2 906.6L212.5 905.9L214.0 906.4L215.5 906.0L217.0 905.9L218.5 906.5L220.0 905.4L221.5 905.6L223.2 905.8L225.0 905.6L226.4 905.9L227.8 906.9L229.2 906.9L230.6 907.0L231.7 905.6L232.9 905.4L234.0 904.4L235.2 904.1L236.3 902.9L237.7 902.5L239.0 902.1L240.4 901.8L241.7 901.3L243.1 901.4L244.4 901.6L245.8 902.0L247.1 902.3L248.5 902.3L249.8 902.2L251.2 903.4L252.5 904.3L253.9 904.1L255.2 905.3L256.6 906.0L258.0 905.7L259.4 905.4L260.8 904.9L262.2 904.7L263.7 904.9L265.3 904.5L266.8 903.0L268.2 902.9L269.6 904.3L271.0 904.2L272.4 904.5L273.2 903.0L274.1 902.5L274.9 901.2L275.8 899.9L277.5 899.9L279.2 899.9L279.9 900.7L280.6 901.7L281.2 902.3L281.9 903.8L282.6 904.7L283.7 905.8L284.9 906.4L286.0 906.9L287.3 907.1L288.7 906.6L290.0 907.2L291.4 907.4L292.7 906.8L294.1 907.1L295.4 906.3L296.8 907.2L298.1 907.2L299.5 906.5L300.9 908.0L302.2 907.9L303.6 907.7L304.9 908.3L306.3 909.5L307.6 909.8L309.0 910.9L310.3 910.6L311.7 911.8L313.0 912.8L314.4 912.0L315.7 912.3L317.1 911.7L318.4 911.7L319.8 911.5L321.3 912.2L322.8 911.0L324.3 911.7L325.8 911.9L327.3 911.0L328.8 911.4L330.1 912.1L331.4 911.5L332.7 909.9L334.0 910.7L335.3 910.0L336.6 910.6L337.9 910.0L339.4 910.8L340.9 911.5L342.4 912.6L343.8 911.5L345.2 910.5L346.6 909.9L348.0 909.3L349.3 908.7L350.6 909.2L351.9 908.0L353.3 908.5L354.6 908.1L355.9 908.6L357.3 908.0L358.6 908.2L360.0 908.3L361.3 909.7L362.7 909.4L364.1 908.6L365.4 908.6L366.8 908.1L368.1 908.8L369.5 908.1L370.8 907.5L372.2 908.6L373.5 909.0L374.9 909.0L376.2 909.4L377.5 909.2L378.8 909.3L380.1 909.3L381.5 909.0L382.8 909.3L384.1 909.3L385.7 908.8L387.4 908.2L389.0 907.6L390.3 908.7L391.6 909.6L392.9 909.1L394.2 910.4L395.5 911.7L396.8 912.2L398.1 912.3L399.2 912.2L400.3 910.7L401.5 910.0L402.6 910.2L403.7 908.6L404.8 907.9L406.1 907.6L407.4 908.0L408.7 908.1L410.0 908.6L411.3 908.2L412.6 909.4L413.9 909.1L415.3 909.0L416.7 909.0L418.1 909.5L419.5 909.7L420.9 909.1L422.3 909.8L423.7 909.8L425.1 909.7L426.5 909.6L427.9 909.2L429.3 910.3L430.8 910.2L432.2 910.6L433.6 910.2L435.0 911.0L436.4 911.5L437.7 911.1L439.0 911.5L440.3 912.0L441.6 911.5L442.9 911.2L444.2 912.2L445.5 910.6L446.9 910.9L448.3 911.3L449.7 910.8L451.1 910.0L452.5 910.8L453.9 910.9L455.3 910.2L456.7 910.8L458.0 910.5L459.3 910.7L460.6 909.8L461.9 910.3L463.2 910.9L464.5 911.0L465.8 910.8L467.2 910.7L468.5 911.2L469.9 911.4L471.2 912.4L472.6 912.3L473.9 912.1L475.3 910.9L476.6 910.7L478.0 911.4L479.3 910.3L480.6 910.5L481.9 909.8L483.2 910.8L484.5 911.7L485.8 910.6L487.1 910.4L488.4 911.3L489.7 911.2L491.1 911.3L492.4 911.0L493.8 910.9L495.1 911.0L496.5 912.2L498.0 912.5L499.4 913.4L500.8 913.3L501.9 912.8L503.1 911.3L504.2 910.4L505.3 909.5L506.8 908.8L508.3 908.3L509.8 907.4L510.9 908.7L512.0 909.6L513.2 909.8L514.3 910.7L515.4 910.8L517.1 911.5L518.8 912.6L519.8 911.8L520.7 910.2L521.6 908.6L522.6 907.9L523.5 906.4L524.5 905.7L525.6 907.2L526.8 907.4L527.9 907.9L529.0 909.5L530.1 910.1L531.2 911.5L533.1 911.3L535.0 911.3L536.3 910.6L537.7 911.4L539.0 911.4L540.3 910.3L541.7 910.1L543.0 910.8L544.3 911.6L545.7 911.1L547.0 911.3L548.3 911.2L549.7 911.1L551.0 910.5L552.3 910.4L553.7 910.6L555.0 910.5L556.3 910.4L557.7 910.2L559.0 909.7L560.3 910.3L561.7 910.1L563.0 910.3L564.3 909.0L565.7 910.3L567.0 909.0L568.3 910.0L569.7 909.7L571.0 909.9L572.3 909.7L573.7 909.8L575.0 910.0L576.3 910.0L577.7 909.6L579.0 909.0L580.3 909.6L581.7 910.1L583.0 909.6L584.4 910.1L585.7 909.8L587.0 909.6L588.4 910.3L589.8 910.5L591.1 909.9L592.4 909.9L593.8 910.2L595.0 910.1L596.2 911.0L597.3 912.5L598.5 913.1L599.7 913.3L601.2 912.7L602.6 912.7L604.1 911.6L605.5 911.4L607.0 911.0L608.4 910.2L609.7 911.3L611.1 911.4L612.4 911.5L613.8 910.6L615.1 910.6L616.5 910.8L617.9 910.6L619.2 911.8L620.6 910.8L622.0 911.0L623.4 911.2L624.7 911.3L626.1 911.6L627.5 910.7L628.8 911.4L630.2 911.2L631.6 910.7L633.0 911.2L634.3 910.6L635.7 911.7L637.1 910.8L638.4 911.5L639.8 911.6L641.2 910.9L642.6 910.8L643.9 911.1L645.3 910.7L646.7 911.9L648.2 912.1L649.6 912.3L651.1 912.8L652.5 913.8L653.7 912.4L654.9 912.9L656.1 911.4L657.3 911.0L658.5 910.2L659.7 910.5L661.2 910.5L662.7 911.0L664.2 911.0L665.7 911.1L667.2 911.1L668.7 910.1L670.2 909.5L671.7 908.9L672.6 907.8L673.5 906.4L674.4 905.0L675.3 903.3L676.5 905.8L677.7 905.8L678.9 906.7L679.7 908.4L680.5 910.6L681.3 911.5L682.7 910.9L684.2 911.2L685.6 911.1L687.1 910.4L688.5 911.0L689.9 911.4L691.2 911.9L692.6 911.2L694.0 911.0L695.4 911.4L696.7 912.2L698.1 912.3" fill="none" stroke="#861a86" stroke-width="4.0" stroke-linejoin="round" stroke-linecap="round"/>
<path d="M520.0 623.0L520.9 605.6L521.8 617.8L522.7 604.7L523.6 616.7L524.5 598.4L525.4 611.8L526.3 602.2L527.2 612.8L528.1 609.2L529.0 614.9L529.9 610.6L530.8 613.8L531.7 607.2L532.6 613.7L533.5 605.5L534.4 611.4L535.3 607.6L536.2 613.6L537.1 606.0L538.0 616.8L538.9 607.0L539.8 617.6L540.7 609.9L541.6 619.4L542.5 609.5L543.4 616.7L544.3 607.4L545.2 617.0L546.1 610.2L547.0 621.8L547.9 610.9L548.8 625.4L549.7 614.2L550.6 628.9L551.5 613.5L552.4 623.9L553.3 614.7L554.2 621.2L555.1 613.6L556.0 625.8L556.9 613.5L557.8 628.7L558.7 613.0L559.6 629.8L560.5 610.2L561.4 621.5L562.3 605.3L563.2 622.7L564.1 608.4L565.0 617.7L565.9 609.2L566.8 616.1L567.7 609.5L568.6 615.8L569.5 610.1L570.4 613.5L571.3 609.1L572.2 614.1L573.1 606.3L574.0 614.8L574.9 605.7L575.8 612.6L576.7 607.0L577.6 612.4L578.5 606.7L579.4 612.4L580.3 606.7L581.2 616.7L582.1 607.4L583.0 617.7L583.9 602.9L584.8 617.7L585.7 600.9L586.6 614.1L587.5 594.9L588.4 608.5L589.3 591.9L590.2 606.5L591.1 596.3L592.0 609.4L592.9 596.1L593.8 603.4L594.7 593.1L595.6 598.7L596.5 588.1L597.4 596.1L598.3 588.2L599.2 597.1L600.1 589.2L601.0 598.2L601.9 589.5L602.8 595.6L603.7 590.1L604.6 595.9L605.5 588.8L606.4 600.1L607.3 592.7L608.2 608.1L609.1 594.3L610.0 607.5L610.9 595.3L611.8 607.3L612.7 595.3L613.6 606.0L614.5 597.7L615.4 606.1L616.3 600.9L617.2 613.6L618.1 602.6L619.0 616.0L619.9 607.6L620.8 620.9L621.7 609.5L622.6 624.0L623.5 611.2L624.4 624.2L625.3 605.1L626.2 621.6L627.1 604.7L628.0 621.1L628.9 602.7L629.8 617.5L630.7 603.8L631.6 617.2L632.5 598.5L633.4 614.6L634.3 597.6L635.2 610.7L636.1 596.5L637.0 604.2L637.9 586.5L638.8 598.4L639.7 580.3L640.6 587.7L641.5 571.9L642.4 589.9L643.3 577.0L644.2 589.1L645.1 582.1L646.0 590.6L646.9 583.6L647.8 590.7L648.7 582.1L649.6 591.8L650.5 582.1L651.4 598.2L652.3 583.7L653.2 599.3L654.1 581.7L655.0 596.4L655.9 585.7L656.8 598.3L657.7 588.0L658.6 598.8L659.5 590.5L660.4 598.2L661.3 587.0L662.2 595.1L663.1 583.0L664.0 594.8L664.9 578.4L665.8 588.6L666.7 574.5L667.6 584.3L668.5 573.3L669.4 579.5L670.3 569.1L671.2 578.4L672.1 564.9L673.0 578.9L673.9 567.3L674.8 575.3L675.7 568.3L676.6 578.1L677.5 568.1L678.4 578.4L679.3 565.9L680.2 583.4L681.1 562.6L682.0 577.3L682.9 562.0L683.8 574.8L684.7 559.2L685.6 573.2L686.5 564.8L687.4 573.6L688.3 563.9L689.2 571.7L690.1 563.8L691.0 570.1L691.9 562.8L692.8 572.3L693.7 559.3L694.6 568.1L695.5 561.5L696.4 569.6L697.3 561.9L698.2 570.3" fill="none" stroke="#1717f5" stroke-width="3.6" stroke-linejoin="round" stroke-linecap="round"/>
<g stroke="#000" fill="none">
<line x1="70" y1="5.2" x2="70" y2="937" stroke-width="3.6"/>
<line x1="68.2" y1="6.8" x2="702.3" y2="6.8" stroke-width="3.2"/>
<line x1="700.7" y1="5.2" x2="700.7" y2="937" stroke-width="3.2"/>
<line x1="68.2" y1="935.2" x2="702.3" y2="935.2" stroke-width="3.6"/>
<line x1="192.0" y1="935" x2="192.0" y2="949" stroke-width="3"/>
<line x1="334.0" y1="935" x2="334.0" y2="949" stroke-width="3"/>
<line x1="477.5" y1="935" x2="477.5" y2="949" stroke-width="3"/>
<line x1="619.0" y1="935" x2="619.0" y2="949" stroke-width="3"/>
<line x1="120.0" y1="935" x2="120.0" y2="926" stroke-width="3"/>
<line x1="264.0" y1="935" x2="264.0" y2="926" stroke-width="3"/>
<line x1="406.0" y1="935" x2="406.0" y2="926" stroke-width="3"/>
<line x1="549.5" y1="935" x2="549.5" y2="926" stroke-width="3"/>
<line x1="691.0" y1="935" x2="691.0" y2="926" stroke-width="3"/>
<line x1="302.9" y1="418" x2="325.5" y2="435" stroke-width="4"/>
<line x1="373.2" y1="438.2" x2="402.8" y2="421.3" stroke-width="4.3"/>
<line x1="109.8" y1="804" x2="109.8" y2="825" stroke-width="3.8"/>
<line x1="115.4" y1="879.3" x2="133.5" y2="861.3" stroke-width="4.5"/>
<line x1="176.4" y1="891.7" x2="223.8" y2="875.9" stroke-width="4"/>
</g>
<g>
<text transform="translate(624.32 94.44) scale(1.0868 1)" font-size="26.04" font-weight="bold" fill="#0a0a0a">3:1</text>
<text transform="translate(621.67 214.44) scale(1.1275 1)" font-size="26.04" font-weight="bold" fill="#0a0a0a">2:1</text>
<text transform="translate(628.81 345.23) scale(1.1258 1)" font-size="26.18" font-weight="normal" fill="#0a0a0a" stroke="#0a0a0a" stroke-width="0.6">1:3</text>
<text transform="translate(623.99 460.44) scale(1.1836 1)" font-size="25.44" font-weight="bold" fill="#0a0a0a">1:2</text>
<text transform="translate(631.52 549.95) scale(1.1013 1)" font-size="24.78" font-weight="bold" fill="#0a0a0a">1:1</text>
<text transform="translate(352.45 553.17) scale(1.0877 1)" font-size="27.76" font-weight="bold" fill="#0a0a0a">CuO/SiO</text>
<text transform="translate(471.40 570.30) scale(1.0579 1)" font-size="27.04" font-weight="bold" fill="#0a0a0a">2</text>
<text transform="translate(486.14 553.09) scale(1.0363 1)" font-size="28.99" font-weight="bold" fill="#0a0a0a">:rGO</text>
<text transform="translate(506.38 727.86) scale(1.0483 1)" font-size="28.19" font-weight="bold" fill="#0a0a0a">CuO/SiO</text>
<text transform="translate(622.06 737.40) scale(1.0530 1)" font-size="30.36" font-weight="bold" fill="#0a0a0a">2</text>
<text transform="translate(601.08 883.17) scale(1.0677 1)" font-size="27.74" font-weight="bold" fill="#0a0a0a">CuO</text>
<text transform="translate(160.86 986.99) scale(1.0146 1)" font-size="41.42" font-weight="bold" fill="#0a0a0a">700</text>
<text transform="translate(295.52 986.59) scale(0.9687 1)" font-size="40.98" font-weight="bold" fill="#0a0a0a">1400</text>
<text transform="translate(436.27 986.59) scale(1.0067 1)" font-size="40.98" font-weight="bold" fill="#0a0a0a">2100</text>
<text transform="translate(578.98 986.59) scale(0.9978 1)" font-size="40.98" font-weight="bold" fill="#0a0a0a">2800</text>
<text transform="translate(199.39 1055.96) scale(0.9984 1)" font-size="43.60" font-weight="bold" fill="#0a0a0a">Wavenumber(cm</text>
<text transform="translate(520.43 1032.20) scale(1.0036 1)" font-size="40.61" font-weight="bold" fill="#0a0a0a">-1</text>
<text transform="translate(557.22 1055.96) scale(0.9868 1)" font-size="43.60" font-weight="bold" fill="#0a0a0a">)</text>
<text transform="translate(220.22 421.04) scale(0.9977 1)" font-size="26.04" font-weight="bold" fill="#0a0a0a">1350 cm</text>
<text transform="translate(313.31 405.00) scale(0.8431 1)" font-size="27.88" font-weight="normal" fill="#0a0a0a">-1</text>
<text transform="translate(393.80 423.75) scale(1.0622 1)" font-size="24.70" font-weight="bold" fill="#0a0a0a">1595 cm</text>
<text transform="translate(486.62 407.50) scale(1.0819 1)" font-size="25.15" font-weight="bold" fill="#0a0a0a">-1</text>
<text transform="translate(74.89 806.16) scale(1.1063 1)" font-size="23.82" font-weight="bold" fill="#0a0a0a">282 cm</text>
<text transform="translate(154.70 790.50) scale(1.0276 1)" font-size="24.39" font-weight="bold" fill="#0a0a0a">-1</text>
<text transform="translate(132.79 851.61) scale(1.0171 1)" font-size="28.85" font-weight="bold" fill="#0a0a0a">340 cm</text>
<text transform="translate(221.80 835.00) scale(1.0056 1)" font-size="27.73" font-weight="bold" fill="#0a0a0a">-1</text>
<text transform="translate(233.61 883.31) scale(1.0105 1)" font-size="28.70" font-weight="bold" fill="#0a0a0a">620 cm</text>
<text transform="translate(322.48 868.00) scale(1.0657 1)" font-size="26.67" font-weight="bold" fill="#0a0a0a">-1</text>
<text transform="translate(33.96 607.09) rotate(-90) scale(1.0329 1)" font-size="42.31" font-weight="bold" fill="#0a0a0a">Intensity (a.u.)</text>
</g>
</svg>
</body></html>
